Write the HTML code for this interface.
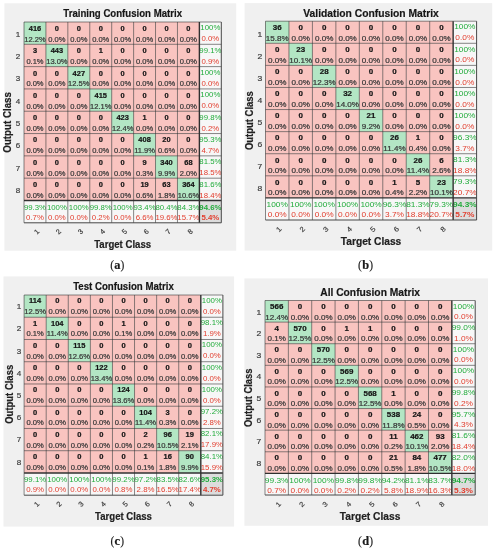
<!DOCTYPE html>
<html lang="en">
<head>
<meta charset="utf-8">
<title>Confusion Matrices</title>
<style>
html,body{margin:0;padding:0;background:#fff;}
body{width:496px;height:550px;overflow:hidden;}
svg{display:block;}
text{font-family:"Liberation Sans",Arial,Helvetica,sans-serif;text-anchor:middle;}
.n{font-size:7.45px;font-weight:bold;fill:#161616;stroke:#161616;stroke-width:0.22px;}
.p{font-size:7.55px;fill:#383838;stroke:#383838;stroke-width:0.22px;}
.g{font-size:7.8px;fill:#22ac3c;}
.r{font-size:7.8px;fill:#e23d2d;}
.b{font-weight:bold;}
.t{font-size:8.0px;fill:#3c3c3c;stroke:#3c3c3c;stroke-width:0.2px;}
.ti{font-size:11.1px;font-weight:bold;fill:#161616;stroke:#161616;stroke-width:0.2px;}
.la{font-size:10.8px;font-weight:bold;fill:#222;stroke:#222;stroke-width:0.2px;}
.cap{font-family:"Liberation Serif","DejaVu Serif",serif;font-size:11.5px;fill:#1a1a1a;letter-spacing:0.2px;stroke:#1a1a1a;stroke-width:0.12px;}
.capb{font-weight:bold;font-size:12.4px;stroke:#1a1a1a;stroke-width:0.2px;}
</style>
</head>
<body>
<svg width="496" height="550" viewBox="0 0 496 550">
<rect x="0" y="0" width="496" height="550" fill="#ffffff"/>
<g id="panel-a">
<rect x="4.4" y="3.3" width="231.8" height="247.4" fill="#f0f0f0"/>
<rect x="24" y="22" width="21.97" height="22.36" fill="#b3e6c4"/>
<rect x="45.92" y="22" width="21.97" height="22.36" fill="#f9c4c0"/>
<rect x="67.84" y="22" width="21.97" height="22.36" fill="#f9c4c0"/>
<rect x="89.77" y="22" width="21.97" height="22.36" fill="#f9c4c0"/>
<rect x="111.69" y="22" width="21.97" height="22.36" fill="#f9c4c0"/>
<rect x="133.61" y="22" width="21.97" height="22.36" fill="#f9c4c0"/>
<rect x="155.53" y="22" width="21.97" height="22.36" fill="#f9c4c0"/>
<rect x="177.46" y="22" width="21.97" height="22.36" fill="#f9c4c0"/>
<rect x="199.38" y="22" width="21.97" height="22.36" fill="#f7f7f7"/>
<rect x="24" y="44.31" width="21.97" height="22.36" fill="#f9c4c0"/>
<rect x="45.92" y="44.31" width="21.97" height="22.36" fill="#b3e6c4"/>
<rect x="67.84" y="44.31" width="21.97" height="22.36" fill="#f9c4c0"/>
<rect x="89.77" y="44.31" width="21.97" height="22.36" fill="#f9c4c0"/>
<rect x="111.69" y="44.31" width="21.97" height="22.36" fill="#f9c4c0"/>
<rect x="133.61" y="44.31" width="21.97" height="22.36" fill="#f9c4c0"/>
<rect x="155.53" y="44.31" width="21.97" height="22.36" fill="#f9c4c0"/>
<rect x="177.46" y="44.31" width="21.97" height="22.36" fill="#f9c4c0"/>
<rect x="199.38" y="44.31" width="21.97" height="22.36" fill="#f7f7f7"/>
<rect x="24" y="66.62" width="21.97" height="22.36" fill="#f9c4c0"/>
<rect x="45.92" y="66.62" width="21.97" height="22.36" fill="#f9c4c0"/>
<rect x="67.84" y="66.62" width="21.97" height="22.36" fill="#b3e6c4"/>
<rect x="89.77" y="66.62" width="21.97" height="22.36" fill="#f9c4c0"/>
<rect x="111.69" y="66.62" width="21.97" height="22.36" fill="#f9c4c0"/>
<rect x="133.61" y="66.62" width="21.97" height="22.36" fill="#f9c4c0"/>
<rect x="155.53" y="66.62" width="21.97" height="22.36" fill="#f9c4c0"/>
<rect x="177.46" y="66.62" width="21.97" height="22.36" fill="#f9c4c0"/>
<rect x="199.38" y="66.62" width="21.97" height="22.36" fill="#f7f7f7"/>
<rect x="24" y="88.93" width="21.97" height="22.36" fill="#f9c4c0"/>
<rect x="45.92" y="88.93" width="21.97" height="22.36" fill="#f9c4c0"/>
<rect x="67.84" y="88.93" width="21.97" height="22.36" fill="#f9c4c0"/>
<rect x="89.77" y="88.93" width="21.97" height="22.36" fill="#b3e6c4"/>
<rect x="111.69" y="88.93" width="21.97" height="22.36" fill="#f9c4c0"/>
<rect x="133.61" y="88.93" width="21.97" height="22.36" fill="#f9c4c0"/>
<rect x="155.53" y="88.93" width="21.97" height="22.36" fill="#f9c4c0"/>
<rect x="177.46" y="88.93" width="21.97" height="22.36" fill="#f9c4c0"/>
<rect x="199.38" y="88.93" width="21.97" height="22.36" fill="#f7f7f7"/>
<rect x="24" y="111.24" width="21.97" height="22.36" fill="#f9c4c0"/>
<rect x="45.92" y="111.24" width="21.97" height="22.36" fill="#f9c4c0"/>
<rect x="67.84" y="111.24" width="21.97" height="22.36" fill="#f9c4c0"/>
<rect x="89.77" y="111.24" width="21.97" height="22.36" fill="#f9c4c0"/>
<rect x="111.69" y="111.24" width="21.97" height="22.36" fill="#b3e6c4"/>
<rect x="133.61" y="111.24" width="21.97" height="22.36" fill="#f9c4c0"/>
<rect x="155.53" y="111.24" width="21.97" height="22.36" fill="#f9c4c0"/>
<rect x="177.46" y="111.24" width="21.97" height="22.36" fill="#f9c4c0"/>
<rect x="199.38" y="111.24" width="21.97" height="22.36" fill="#f7f7f7"/>
<rect x="24" y="133.56" width="21.97" height="22.36" fill="#f9c4c0"/>
<rect x="45.92" y="133.56" width="21.97" height="22.36" fill="#f9c4c0"/>
<rect x="67.84" y="133.56" width="21.97" height="22.36" fill="#f9c4c0"/>
<rect x="89.77" y="133.56" width="21.97" height="22.36" fill="#f9c4c0"/>
<rect x="111.69" y="133.56" width="21.97" height="22.36" fill="#f9c4c0"/>
<rect x="133.61" y="133.56" width="21.97" height="22.36" fill="#b3e6c4"/>
<rect x="155.53" y="133.56" width="21.97" height="22.36" fill="#f9c4c0"/>
<rect x="177.46" y="133.56" width="21.97" height="22.36" fill="#f9c4c0"/>
<rect x="199.38" y="133.56" width="21.97" height="22.36" fill="#f7f7f7"/>
<rect x="24" y="155.87" width="21.97" height="22.36" fill="#f9c4c0"/>
<rect x="45.92" y="155.87" width="21.97" height="22.36" fill="#f9c4c0"/>
<rect x="67.84" y="155.87" width="21.97" height="22.36" fill="#f9c4c0"/>
<rect x="89.77" y="155.87" width="21.97" height="22.36" fill="#f9c4c0"/>
<rect x="111.69" y="155.87" width="21.97" height="22.36" fill="#f9c4c0"/>
<rect x="133.61" y="155.87" width="21.97" height="22.36" fill="#f9c4c0"/>
<rect x="155.53" y="155.87" width="21.97" height="22.36" fill="#b3e6c4"/>
<rect x="177.46" y="155.87" width="21.97" height="22.36" fill="#f9c4c0"/>
<rect x="199.38" y="155.87" width="21.97" height="22.36" fill="#f7f7f7"/>
<rect x="24" y="178.18" width="21.97" height="22.36" fill="#f9c4c0"/>
<rect x="45.92" y="178.18" width="21.97" height="22.36" fill="#f9c4c0"/>
<rect x="67.84" y="178.18" width="21.97" height="22.36" fill="#f9c4c0"/>
<rect x="89.77" y="178.18" width="21.97" height="22.36" fill="#f9c4c0"/>
<rect x="111.69" y="178.18" width="21.97" height="22.36" fill="#f9c4c0"/>
<rect x="133.61" y="178.18" width="21.97" height="22.36" fill="#f9c4c0"/>
<rect x="155.53" y="178.18" width="21.97" height="22.36" fill="#f9c4c0"/>
<rect x="177.46" y="178.18" width="21.97" height="22.36" fill="#b3e6c4"/>
<rect x="199.38" y="178.18" width="21.97" height="22.36" fill="#f7f7f7"/>
<rect x="24" y="200.49" width="21.97" height="22.36" fill="#f7f7f7"/>
<rect x="45.92" y="200.49" width="21.97" height="22.36" fill="#f7f7f7"/>
<rect x="67.84" y="200.49" width="21.97" height="22.36" fill="#f7f7f7"/>
<rect x="89.77" y="200.49" width="21.97" height="22.36" fill="#f7f7f7"/>
<rect x="111.69" y="200.49" width="21.97" height="22.36" fill="#f7f7f7"/>
<rect x="133.61" y="200.49" width="21.97" height="22.36" fill="#f7f7f7"/>
<rect x="155.53" y="200.49" width="21.97" height="22.36" fill="#f7f7f7"/>
<rect x="177.46" y="200.49" width="21.97" height="22.36" fill="#f7f7f7"/>
<rect x="199.38" y="200.49" width="21.97" height="22.36" fill="#dcdcdc"/>
<text transform="translate(34.96 30.93) scale(1 1.05)" class="n">416</text>
<text transform="translate(34.96 41.76) scale(1 1.06)" class="p">12.2%</text>
<text transform="translate(56.88 30.93) scale(1 1.05)" class="n">0</text>
<text transform="translate(56.88 41.76) scale(1 1.06)" class="p">0.0%</text>
<text transform="translate(78.81 30.93) scale(1 1.05)" class="n">0</text>
<text transform="translate(78.81 41.76) scale(1 1.06)" class="p">0.0%</text>
<text transform="translate(100.73 30.93) scale(1 1.05)" class="n">0</text>
<text transform="translate(100.73 41.76) scale(1 1.06)" class="p">0.0%</text>
<text transform="translate(122.65 30.93) scale(1 1.05)" class="n">0</text>
<text transform="translate(122.65 41.76) scale(1 1.06)" class="p">0.0%</text>
<text transform="translate(144.57 30.93) scale(1 1.05)" class="n">0</text>
<text transform="translate(144.57 41.76) scale(1 1.06)" class="p">0.0%</text>
<text transform="translate(166.49 30.93) scale(1 1.05)" class="n">0</text>
<text transform="translate(166.49 41.76) scale(1 1.06)" class="p">0.0%</text>
<text transform="translate(188.42 30.93) scale(1 1.05)" class="n">0</text>
<text transform="translate(188.42 41.76) scale(1 1.06)" class="p">0.0%</text>
<text transform="translate(34.96 53.24) scale(1 1.05)" class="n">3</text>
<text transform="translate(34.96 64.07) scale(1 1.06)" class="p">0.1%</text>
<text transform="translate(56.88 53.24) scale(1 1.05)" class="n">443</text>
<text transform="translate(56.88 64.07) scale(1 1.06)" class="p">13.0%</text>
<text transform="translate(78.81 53.24) scale(1 1.05)" class="n">0</text>
<text transform="translate(78.81 64.07) scale(1 1.06)" class="p">0.0%</text>
<text transform="translate(100.73 53.24) scale(1 1.05)" class="n">1</text>
<text transform="translate(100.73 64.07) scale(1 1.06)" class="p">0.0%</text>
<text transform="translate(122.65 53.24) scale(1 1.05)" class="n">0</text>
<text transform="translate(122.65 64.07) scale(1 1.06)" class="p">0.0%</text>
<text transform="translate(144.57 53.24) scale(1 1.05)" class="n">0</text>
<text transform="translate(144.57 64.07) scale(1 1.06)" class="p">0.0%</text>
<text transform="translate(166.49 53.24) scale(1 1.05)" class="n">0</text>
<text transform="translate(166.49 64.07) scale(1 1.06)" class="p">0.0%</text>
<text transform="translate(188.42 53.24) scale(1 1.05)" class="n">0</text>
<text transform="translate(188.42 64.07) scale(1 1.06)" class="p">0.0%</text>
<text transform="translate(34.96 75.55) scale(1 1.05)" class="n">0</text>
<text transform="translate(34.96 86.39) scale(1 1.06)" class="p">0.0%</text>
<text transform="translate(56.88 75.55) scale(1 1.05)" class="n">0</text>
<text transform="translate(56.88 86.39) scale(1 1.06)" class="p">0.0%</text>
<text transform="translate(78.81 75.55) scale(1 1.05)" class="n">427</text>
<text transform="translate(78.81 86.39) scale(1 1.06)" class="p">12.5%</text>
<text transform="translate(100.73 75.55) scale(1 1.05)" class="n">0</text>
<text transform="translate(100.73 86.39) scale(1 1.06)" class="p">0.0%</text>
<text transform="translate(122.65 75.55) scale(1 1.05)" class="n">0</text>
<text transform="translate(122.65 86.39) scale(1 1.06)" class="p">0.0%</text>
<text transform="translate(144.57 75.55) scale(1 1.05)" class="n">0</text>
<text transform="translate(144.57 86.39) scale(1 1.06)" class="p">0.0%</text>
<text transform="translate(166.49 75.55) scale(1 1.05)" class="n">0</text>
<text transform="translate(166.49 86.39) scale(1 1.06)" class="p">0.0%</text>
<text transform="translate(188.42 75.55) scale(1 1.05)" class="n">0</text>
<text transform="translate(188.42 86.39) scale(1 1.06)" class="p">0.0%</text>
<text transform="translate(34.96 97.86) scale(1 1.05)" class="n">0</text>
<text transform="translate(34.96 108.7) scale(1 1.06)" class="p">0.0%</text>
<text transform="translate(56.88 97.86) scale(1 1.05)" class="n">0</text>
<text transform="translate(56.88 108.7) scale(1 1.06)" class="p">0.0%</text>
<text transform="translate(78.81 97.86) scale(1 1.05)" class="n">0</text>
<text transform="translate(78.81 108.7) scale(1 1.06)" class="p">0.0%</text>
<text transform="translate(100.73 97.86) scale(1 1.05)" class="n">415</text>
<text transform="translate(100.73 108.7) scale(1 1.06)" class="p">12.1%</text>
<text transform="translate(122.65 97.86) scale(1 1.05)" class="n">0</text>
<text transform="translate(122.65 108.7) scale(1 1.06)" class="p">0.0%</text>
<text transform="translate(144.57 97.86) scale(1 1.05)" class="n">0</text>
<text transform="translate(144.57 108.7) scale(1 1.06)" class="p">0.0%</text>
<text transform="translate(166.49 97.86) scale(1 1.05)" class="n">0</text>
<text transform="translate(166.49 108.7) scale(1 1.06)" class="p">0.0%</text>
<text transform="translate(188.42 97.86) scale(1 1.05)" class="n">0</text>
<text transform="translate(188.42 108.7) scale(1 1.06)" class="p">0.0%</text>
<text transform="translate(34.96 120.17) scale(1 1.05)" class="n">0</text>
<text transform="translate(34.96 131.01) scale(1 1.06)" class="p">0.0%</text>
<text transform="translate(56.88 120.17) scale(1 1.05)" class="n">0</text>
<text transform="translate(56.88 131.01) scale(1 1.06)" class="p">0.0%</text>
<text transform="translate(78.81 120.17) scale(1 1.05)" class="n">0</text>
<text transform="translate(78.81 131.01) scale(1 1.06)" class="p">0.0%</text>
<text transform="translate(100.73 120.17) scale(1 1.05)" class="n">0</text>
<text transform="translate(100.73 131.01) scale(1 1.06)" class="p">0.0%</text>
<text transform="translate(122.65 120.17) scale(1 1.05)" class="n">423</text>
<text transform="translate(122.65 131.01) scale(1 1.06)" class="p">12.4%</text>
<text transform="translate(144.57 120.17) scale(1 1.05)" class="n">1</text>
<text transform="translate(144.57 131.01) scale(1 1.06)" class="p">0.0%</text>
<text transform="translate(166.49 120.17) scale(1 1.05)" class="n">0</text>
<text transform="translate(166.49 131.01) scale(1 1.06)" class="p">0.0%</text>
<text transform="translate(188.42 120.17) scale(1 1.05)" class="n">0</text>
<text transform="translate(188.42 131.01) scale(1 1.06)" class="p">0.0%</text>
<text transform="translate(34.96 142.48) scale(1 1.05)" class="n">0</text>
<text transform="translate(34.96 153.32) scale(1 1.06)" class="p">0.0%</text>
<text transform="translate(56.88 142.48) scale(1 1.05)" class="n">0</text>
<text transform="translate(56.88 153.32) scale(1 1.06)" class="p">0.0%</text>
<text transform="translate(78.81 142.48) scale(1 1.05)" class="n">0</text>
<text transform="translate(78.81 153.32) scale(1 1.06)" class="p">0.0%</text>
<text transform="translate(100.73 142.48) scale(1 1.05)" class="n">0</text>
<text transform="translate(100.73 153.32) scale(1 1.06)" class="p">0.0%</text>
<text transform="translate(122.65 142.48) scale(1 1.05)" class="n">0</text>
<text transform="translate(122.65 153.32) scale(1 1.06)" class="p">0.0%</text>
<text transform="translate(144.57 142.48) scale(1 1.05)" class="n">408</text>
<text transform="translate(144.57 153.32) scale(1 1.06)" class="p">11.9%</text>
<text transform="translate(166.49 142.48) scale(1 1.05)" class="n">20</text>
<text transform="translate(166.49 153.32) scale(1 1.06)" class="p">0.6%</text>
<text transform="translate(188.42 142.48) scale(1 1.05)" class="n">0</text>
<text transform="translate(188.42 153.32) scale(1 1.06)" class="p">0.0%</text>
<text transform="translate(34.96 164.8) scale(1 1.05)" class="n">0</text>
<text transform="translate(34.96 175.63) scale(1 1.06)" class="p">0.0%</text>
<text transform="translate(56.88 164.8) scale(1 1.05)" class="n">0</text>
<text transform="translate(56.88 175.63) scale(1 1.06)" class="p">0.0%</text>
<text transform="translate(78.81 164.8) scale(1 1.05)" class="n">0</text>
<text transform="translate(78.81 175.63) scale(1 1.06)" class="p">0.0%</text>
<text transform="translate(100.73 164.8) scale(1 1.05)" class="n">0</text>
<text transform="translate(100.73 175.63) scale(1 1.06)" class="p">0.0%</text>
<text transform="translate(122.65 164.8) scale(1 1.05)" class="n">0</text>
<text transform="translate(122.65 175.63) scale(1 1.06)" class="p">0.0%</text>
<text transform="translate(144.57 164.8) scale(1 1.05)" class="n">9</text>
<text transform="translate(144.57 175.63) scale(1 1.06)" class="p">0.3%</text>
<text transform="translate(166.49 164.8) scale(1 1.05)" class="n">340</text>
<text transform="translate(166.49 175.63) scale(1 1.06)" class="p">9.9%</text>
<text transform="translate(188.42 164.8) scale(1 1.05)" class="n">68</text>
<text transform="translate(188.42 175.63) scale(1 1.06)" class="p">2.0%</text>
<text transform="translate(34.96 187.11) scale(1 1.05)" class="n">0</text>
<text transform="translate(34.96 197.94) scale(1 1.06)" class="p">0.0%</text>
<text transform="translate(56.88 187.11) scale(1 1.05)" class="n">0</text>
<text transform="translate(56.88 197.94) scale(1 1.06)" class="p">0.0%</text>
<text transform="translate(78.81 187.11) scale(1 1.05)" class="n">0</text>
<text transform="translate(78.81 197.94) scale(1 1.06)" class="p">0.0%</text>
<text transform="translate(100.73 187.11) scale(1 1.05)" class="n">0</text>
<text transform="translate(100.73 197.94) scale(1 1.06)" class="p">0.0%</text>
<text transform="translate(122.65 187.11) scale(1 1.05)" class="n">0</text>
<text transform="translate(122.65 197.94) scale(1 1.06)" class="p">0.0%</text>
<text transform="translate(144.57 187.11) scale(1 1.05)" class="n">19</text>
<text transform="translate(144.57 197.94) scale(1 1.06)" class="p">0.6%</text>
<text transform="translate(166.49 187.11) scale(1 1.05)" class="n">63</text>
<text transform="translate(166.49 197.94) scale(1 1.06)" class="p">1.8%</text>
<text transform="translate(188.42 187.11) scale(1 1.05)" class="n">364</text>
<text transform="translate(188.42 197.94) scale(1 1.06)" class="p">10.6%</text>
<text transform="translate(210.34 30.33) scale(1 1)" class="g">100%</text>
<text transform="translate(210.34 41.36) scale(1 1)" class="r">0.0%</text>
<text transform="translate(210.34 52.64) scale(1 1)" class="g">99.1%</text>
<text transform="translate(210.34 63.67) scale(1 1)" class="r">0.9%</text>
<text transform="translate(210.34 74.95) scale(1 1)" class="g">100%</text>
<text transform="translate(210.34 85.98) scale(1 1)" class="r">0.0%</text>
<text transform="translate(210.34 97.26) scale(1 1)" class="g">100%</text>
<text transform="translate(210.34 108.3) scale(1 1)" class="r">0.0%</text>
<text transform="translate(210.34 119.57) scale(1 1)" class="g">99.8%</text>
<text transform="translate(210.34 130.61) scale(1 1)" class="r">0.2%</text>
<text transform="translate(210.34 141.88) scale(1 1)" class="g">95.3%</text>
<text transform="translate(210.34 152.92) scale(1 1)" class="r">4.7%</text>
<text transform="translate(210.34 164.19) scale(1 1)" class="g">81.5%</text>
<text transform="translate(210.34 175.23) scale(1 1)" class="r">18.5%</text>
<text transform="translate(210.34 186.5) scale(1 1)" class="g">81.6%</text>
<text transform="translate(210.34 197.54) scale(1 1)" class="r">18.4%</text>
<text transform="translate(34.96 210.02) scale(1 1)" class="g">99.3%</text>
<text transform="translate(34.96 220.25) scale(1 1)" class="r">0.7%</text>
<text transform="translate(56.88 210.02) scale(1 1)" class="g">100%</text>
<text transform="translate(56.88 220.25) scale(1 1)" class="r">0.0%</text>
<text transform="translate(78.81 210.02) scale(1 1)" class="g">100%</text>
<text transform="translate(78.81 220.25) scale(1 1)" class="r">0.0%</text>
<text transform="translate(100.73 210.02) scale(1 1)" class="g">99.8%</text>
<text transform="translate(100.73 220.25) scale(1 1)" class="r">0.2%</text>
<text transform="translate(122.65 210.02) scale(1 1)" class="g">100%</text>
<text transform="translate(122.65 220.25) scale(1 1)" class="r">0.0%</text>
<text transform="translate(144.57 210.02) scale(1 1)" class="g">93.4%</text>
<text transform="translate(144.57 220.25) scale(1 1)" class="r">6.6%</text>
<text transform="translate(166.49 210.02) scale(1 1)" class="g">80.4%</text>
<text transform="translate(166.49 220.25) scale(1 1)" class="r">19.6%</text>
<text transform="translate(188.42 210.02) scale(1 1)" class="g">84.3%</text>
<text transform="translate(188.42 220.25) scale(1 1)" class="r">15.7%</text>
<text transform="translate(210.34 210.02) scale(1 1)" class="g b">94.6%</text>
<text transform="translate(210.34 220.25) scale(1 1)" class="r b">5.4%</text>
<line x1="24" y1="22" x2="24" y2="222.8" stroke="#333333" stroke-width="0.58"/>
<line x1="24" y1="22" x2="221.3" y2="22" stroke="#333333" stroke-width="0.58"/>
<line x1="45.92" y1="22" x2="45.92" y2="222.8" stroke="#333333" stroke-width="0.58"/>
<line x1="24" y1="44.31" x2="221.3" y2="44.31" stroke="#333333" stroke-width="0.58"/>
<line x1="67.84" y1="22" x2="67.84" y2="222.8" stroke="#333333" stroke-width="0.58"/>
<line x1="24" y1="66.62" x2="221.3" y2="66.62" stroke="#333333" stroke-width="0.58"/>
<line x1="89.77" y1="22" x2="89.77" y2="222.8" stroke="#333333" stroke-width="0.58"/>
<line x1="24" y1="88.93" x2="221.3" y2="88.93" stroke="#333333" stroke-width="0.58"/>
<line x1="111.69" y1="22" x2="111.69" y2="222.8" stroke="#333333" stroke-width="0.58"/>
<line x1="24" y1="111.24" x2="221.3" y2="111.24" stroke="#333333" stroke-width="0.58"/>
<line x1="133.61" y1="22" x2="133.61" y2="222.8" stroke="#333333" stroke-width="0.58"/>
<line x1="24" y1="133.56" x2="221.3" y2="133.56" stroke="#333333" stroke-width="0.58"/>
<line x1="155.53" y1="22" x2="155.53" y2="222.8" stroke="#333333" stroke-width="0.58"/>
<line x1="24" y1="155.87" x2="221.3" y2="155.87" stroke="#333333" stroke-width="0.58"/>
<line x1="177.46" y1="22" x2="177.46" y2="222.8" stroke="#333333" stroke-width="0.58"/>
<line x1="24" y1="178.18" x2="221.3" y2="178.18" stroke="#333333" stroke-width="0.58"/>
<line x1="199.38" y1="22" x2="199.38" y2="222.8" stroke="#303030" stroke-width="1.4"/>
<line x1="24" y1="200.49" x2="221.3" y2="200.49" stroke="#303030" stroke-width="1.4"/>
<line x1="221.3" y1="22" x2="221.3" y2="222.8" stroke="#484848" stroke-width="1.0"/>
<line x1="24" y1="222.8" x2="221.3" y2="222.8" stroke="#484848" stroke-width="1.0"/>
<text transform="translate(17.9 36.76) scale(1 1)" class="t">1</text>
<text transform="translate(38.36 233.4) rotate(-45) scale(0.9 0.9)" class="t">1</text>
<text transform="translate(17.9 59.07) scale(1 1)" class="t">2</text>
<text transform="translate(60.28 233.4) rotate(-45) scale(0.9 0.9)" class="t">2</text>
<text transform="translate(17.9 81.38) scale(1 1)" class="t">3</text>
<text transform="translate(82.21 233.4) rotate(-45) scale(0.9 0.9)" class="t">3</text>
<text transform="translate(17.9 103.69) scale(1 1)" class="t">4</text>
<text transform="translate(104.13 233.4) rotate(-45) scale(0.9 0.9)" class="t">4</text>
<text transform="translate(17.9 126) scale(1 1)" class="t">5</text>
<text transform="translate(126.05 233.4) rotate(-45) scale(0.9 0.9)" class="t">5</text>
<text transform="translate(17.9 148.31) scale(1 1)" class="t">6</text>
<text transform="translate(147.97 233.4) rotate(-45) scale(0.9 0.9)" class="t">6</text>
<text transform="translate(17.9 170.62) scale(1 1)" class="t">7</text>
<text transform="translate(169.89 233.4) rotate(-45) scale(0.9 0.9)" class="t">7</text>
<text transform="translate(17.9 192.93) scale(1 1)" class="t">8</text>
<text transform="translate(191.82 233.4) rotate(-45) scale(0.9 0.9)" class="t">8</text>
<text x="122.65" y="17.2" class="ti" textLength="118.7" lengthAdjust="spacingAndGlyphs">Training Confusion Matrix</text>
<text x="122.65" y="247.9" class="la" textLength="56.9" lengthAdjust="spacingAndGlyphs">Target Class</text>
<text transform="translate(10.9 122.4) rotate(-90)" class="la" textLength="60.5" lengthAdjust="spacingAndGlyphs">Output Class</text>
<text x="117.4" y="269" class="cap">(<tspan class="capb">a</tspan>)</text>
</g>
<g id="panel-b">
<rect x="244.6" y="3.1" width="247.6" height="247.5" fill="#f0f0f0"/>
<rect x="265.5" y="21.2" width="23.51" height="22.14" fill="#b3e6c4"/>
<rect x="288.96" y="21.2" width="23.51" height="22.14" fill="#f9c4c0"/>
<rect x="312.41" y="21.2" width="23.51" height="22.14" fill="#f9c4c0"/>
<rect x="335.87" y="21.2" width="23.51" height="22.14" fill="#f9c4c0"/>
<rect x="359.32" y="21.2" width="23.51" height="22.14" fill="#f9c4c0"/>
<rect x="382.78" y="21.2" width="23.51" height="22.14" fill="#f9c4c0"/>
<rect x="406.23" y="21.2" width="23.51" height="22.14" fill="#f9c4c0"/>
<rect x="429.69" y="21.2" width="23.51" height="22.14" fill="#f9c4c0"/>
<rect x="453.14" y="21.2" width="23.51" height="22.14" fill="#f7f7f7"/>
<rect x="265.5" y="43.29" width="23.51" height="22.14" fill="#f9c4c0"/>
<rect x="288.96" y="43.29" width="23.51" height="22.14" fill="#b3e6c4"/>
<rect x="312.41" y="43.29" width="23.51" height="22.14" fill="#f9c4c0"/>
<rect x="335.87" y="43.29" width="23.51" height="22.14" fill="#f9c4c0"/>
<rect x="359.32" y="43.29" width="23.51" height="22.14" fill="#f9c4c0"/>
<rect x="382.78" y="43.29" width="23.51" height="22.14" fill="#f9c4c0"/>
<rect x="406.23" y="43.29" width="23.51" height="22.14" fill="#f9c4c0"/>
<rect x="429.69" y="43.29" width="23.51" height="22.14" fill="#f9c4c0"/>
<rect x="453.14" y="43.29" width="23.51" height="22.14" fill="#f7f7f7"/>
<rect x="265.5" y="65.38" width="23.51" height="22.14" fill="#f9c4c0"/>
<rect x="288.96" y="65.38" width="23.51" height="22.14" fill="#f9c4c0"/>
<rect x="312.41" y="65.38" width="23.51" height="22.14" fill="#b3e6c4"/>
<rect x="335.87" y="65.38" width="23.51" height="22.14" fill="#f9c4c0"/>
<rect x="359.32" y="65.38" width="23.51" height="22.14" fill="#f9c4c0"/>
<rect x="382.78" y="65.38" width="23.51" height="22.14" fill="#f9c4c0"/>
<rect x="406.23" y="65.38" width="23.51" height="22.14" fill="#f9c4c0"/>
<rect x="429.69" y="65.38" width="23.51" height="22.14" fill="#f9c4c0"/>
<rect x="453.14" y="65.38" width="23.51" height="22.14" fill="#f7f7f7"/>
<rect x="265.5" y="87.47" width="23.51" height="22.14" fill="#f9c4c0"/>
<rect x="288.96" y="87.47" width="23.51" height="22.14" fill="#f9c4c0"/>
<rect x="312.41" y="87.47" width="23.51" height="22.14" fill="#f9c4c0"/>
<rect x="335.87" y="87.47" width="23.51" height="22.14" fill="#b3e6c4"/>
<rect x="359.32" y="87.47" width="23.51" height="22.14" fill="#f9c4c0"/>
<rect x="382.78" y="87.47" width="23.51" height="22.14" fill="#f9c4c0"/>
<rect x="406.23" y="87.47" width="23.51" height="22.14" fill="#f9c4c0"/>
<rect x="429.69" y="87.47" width="23.51" height="22.14" fill="#f9c4c0"/>
<rect x="453.14" y="87.47" width="23.51" height="22.14" fill="#f7f7f7"/>
<rect x="265.5" y="109.56" width="23.51" height="22.14" fill="#f9c4c0"/>
<rect x="288.96" y="109.56" width="23.51" height="22.14" fill="#f9c4c0"/>
<rect x="312.41" y="109.56" width="23.51" height="22.14" fill="#f9c4c0"/>
<rect x="335.87" y="109.56" width="23.51" height="22.14" fill="#f9c4c0"/>
<rect x="359.32" y="109.56" width="23.51" height="22.14" fill="#b3e6c4"/>
<rect x="382.78" y="109.56" width="23.51" height="22.14" fill="#f9c4c0"/>
<rect x="406.23" y="109.56" width="23.51" height="22.14" fill="#f9c4c0"/>
<rect x="429.69" y="109.56" width="23.51" height="22.14" fill="#f9c4c0"/>
<rect x="453.14" y="109.56" width="23.51" height="22.14" fill="#f7f7f7"/>
<rect x="265.5" y="131.64" width="23.51" height="22.14" fill="#f9c4c0"/>
<rect x="288.96" y="131.64" width="23.51" height="22.14" fill="#f9c4c0"/>
<rect x="312.41" y="131.64" width="23.51" height="22.14" fill="#f9c4c0"/>
<rect x="335.87" y="131.64" width="23.51" height="22.14" fill="#f9c4c0"/>
<rect x="359.32" y="131.64" width="23.51" height="22.14" fill="#f9c4c0"/>
<rect x="382.78" y="131.64" width="23.51" height="22.14" fill="#b3e6c4"/>
<rect x="406.23" y="131.64" width="23.51" height="22.14" fill="#f9c4c0"/>
<rect x="429.69" y="131.64" width="23.51" height="22.14" fill="#f9c4c0"/>
<rect x="453.14" y="131.64" width="23.51" height="22.14" fill="#f7f7f7"/>
<rect x="265.5" y="153.73" width="23.51" height="22.14" fill="#f9c4c0"/>
<rect x="288.96" y="153.73" width="23.51" height="22.14" fill="#f9c4c0"/>
<rect x="312.41" y="153.73" width="23.51" height="22.14" fill="#f9c4c0"/>
<rect x="335.87" y="153.73" width="23.51" height="22.14" fill="#f9c4c0"/>
<rect x="359.32" y="153.73" width="23.51" height="22.14" fill="#f9c4c0"/>
<rect x="382.78" y="153.73" width="23.51" height="22.14" fill="#f9c4c0"/>
<rect x="406.23" y="153.73" width="23.51" height="22.14" fill="#b3e6c4"/>
<rect x="429.69" y="153.73" width="23.51" height="22.14" fill="#f9c4c0"/>
<rect x="453.14" y="153.73" width="23.51" height="22.14" fill="#f7f7f7"/>
<rect x="265.5" y="175.82" width="23.51" height="22.14" fill="#f9c4c0"/>
<rect x="288.96" y="175.82" width="23.51" height="22.14" fill="#f9c4c0"/>
<rect x="312.41" y="175.82" width="23.51" height="22.14" fill="#f9c4c0"/>
<rect x="335.87" y="175.82" width="23.51" height="22.14" fill="#f9c4c0"/>
<rect x="359.32" y="175.82" width="23.51" height="22.14" fill="#f9c4c0"/>
<rect x="382.78" y="175.82" width="23.51" height="22.14" fill="#f9c4c0"/>
<rect x="406.23" y="175.82" width="23.51" height="22.14" fill="#f9c4c0"/>
<rect x="429.69" y="175.82" width="23.51" height="22.14" fill="#b3e6c4"/>
<rect x="453.14" y="175.82" width="23.51" height="22.14" fill="#f7f7f7"/>
<rect x="265.5" y="197.91" width="23.51" height="22.14" fill="#f7f7f7"/>
<rect x="288.96" y="197.91" width="23.51" height="22.14" fill="#f7f7f7"/>
<rect x="312.41" y="197.91" width="23.51" height="22.14" fill="#f7f7f7"/>
<rect x="335.87" y="197.91" width="23.51" height="22.14" fill="#f7f7f7"/>
<rect x="359.32" y="197.91" width="23.51" height="22.14" fill="#f7f7f7"/>
<rect x="382.78" y="197.91" width="23.51" height="22.14" fill="#f7f7f7"/>
<rect x="406.23" y="197.91" width="23.51" height="22.14" fill="#f7f7f7"/>
<rect x="429.69" y="197.91" width="23.51" height="22.14" fill="#f7f7f7"/>
<rect x="453.14" y="197.91" width="23.51" height="22.14" fill="#dcdcdc"/>
<text transform="translate(277.23 30.04) scale(1.07 1.04)" class="n">36</text>
<text transform="translate(277.23 40.77) scale(1.07 1.05)" class="p">15.8%</text>
<text transform="translate(300.68 30.04) scale(1.07 1.04)" class="n">0</text>
<text transform="translate(300.68 40.77) scale(1.07 1.05)" class="p">0.0%</text>
<text transform="translate(324.14 30.04) scale(1.07 1.04)" class="n">0</text>
<text transform="translate(324.14 40.77) scale(1.07 1.05)" class="p">0.0%</text>
<text transform="translate(347.59 30.04) scale(1.07 1.04)" class="n">0</text>
<text transform="translate(347.59 40.77) scale(1.07 1.05)" class="p">0.0%</text>
<text transform="translate(371.05 30.04) scale(1.07 1.04)" class="n">0</text>
<text transform="translate(371.05 40.77) scale(1.07 1.05)" class="p">0.0%</text>
<text transform="translate(394.51 30.04) scale(1.07 1.04)" class="n">0</text>
<text transform="translate(394.51 40.77) scale(1.07 1.05)" class="p">0.0%</text>
<text transform="translate(417.96 30.04) scale(1.07 1.04)" class="n">0</text>
<text transform="translate(417.96 40.77) scale(1.07 1.05)" class="p">0.0%</text>
<text transform="translate(441.42 30.04) scale(1.07 1.04)" class="n">0</text>
<text transform="translate(441.42 40.77) scale(1.07 1.05)" class="p">0.0%</text>
<text transform="translate(277.23 52.13) scale(1.07 1.04)" class="n">0</text>
<text transform="translate(277.23 62.86) scale(1.07 1.05)" class="p">0.0%</text>
<text transform="translate(300.68 52.13) scale(1.07 1.04)" class="n">23</text>
<text transform="translate(300.68 62.86) scale(1.07 1.05)" class="p">10.1%</text>
<text transform="translate(324.14 52.13) scale(1.07 1.04)" class="n">0</text>
<text transform="translate(324.14 62.86) scale(1.07 1.05)" class="p">0.0%</text>
<text transform="translate(347.59 52.13) scale(1.07 1.04)" class="n">0</text>
<text transform="translate(347.59 62.86) scale(1.07 1.05)" class="p">0.0%</text>
<text transform="translate(371.05 52.13) scale(1.07 1.04)" class="n">0</text>
<text transform="translate(371.05 62.86) scale(1.07 1.05)" class="p">0.0%</text>
<text transform="translate(394.51 52.13) scale(1.07 1.04)" class="n">0</text>
<text transform="translate(394.51 62.86) scale(1.07 1.05)" class="p">0.0%</text>
<text transform="translate(417.96 52.13) scale(1.07 1.04)" class="n">0</text>
<text transform="translate(417.96 62.86) scale(1.07 1.05)" class="p">0.0%</text>
<text transform="translate(441.42 52.13) scale(1.07 1.04)" class="n">0</text>
<text transform="translate(441.42 62.86) scale(1.07 1.05)" class="p">0.0%</text>
<text transform="translate(277.23 74.22) scale(1.07 1.04)" class="n">0</text>
<text transform="translate(277.23 84.94) scale(1.07 1.05)" class="p">0.0%</text>
<text transform="translate(300.68 74.22) scale(1.07 1.04)" class="n">0</text>
<text transform="translate(300.68 84.94) scale(1.07 1.05)" class="p">0.0%</text>
<text transform="translate(324.14 74.22) scale(1.07 1.04)" class="n">28</text>
<text transform="translate(324.14 84.94) scale(1.07 1.05)" class="p">12.3%</text>
<text transform="translate(347.59 74.22) scale(1.07 1.04)" class="n">0</text>
<text transform="translate(347.59 84.94) scale(1.07 1.05)" class="p">0.0%</text>
<text transform="translate(371.05 74.22) scale(1.07 1.04)" class="n">0</text>
<text transform="translate(371.05 84.94) scale(1.07 1.05)" class="p">0.0%</text>
<text transform="translate(394.51 74.22) scale(1.07 1.04)" class="n">0</text>
<text transform="translate(394.51 84.94) scale(1.07 1.05)" class="p">0.0%</text>
<text transform="translate(417.96 74.22) scale(1.07 1.04)" class="n">0</text>
<text transform="translate(417.96 84.94) scale(1.07 1.05)" class="p">0.0%</text>
<text transform="translate(441.42 74.22) scale(1.07 1.04)" class="n">0</text>
<text transform="translate(441.42 84.94) scale(1.07 1.05)" class="p">0.0%</text>
<text transform="translate(277.23 96.31) scale(1.07 1.04)" class="n">0</text>
<text transform="translate(277.23 107.03) scale(1.07 1.05)" class="p">0.0%</text>
<text transform="translate(300.68 96.31) scale(1.07 1.04)" class="n">0</text>
<text transform="translate(300.68 107.03) scale(1.07 1.05)" class="p">0.0%</text>
<text transform="translate(324.14 96.31) scale(1.07 1.04)" class="n">0</text>
<text transform="translate(324.14 107.03) scale(1.07 1.05)" class="p">0.0%</text>
<text transform="translate(347.59 96.31) scale(1.07 1.04)" class="n">32</text>
<text transform="translate(347.59 107.03) scale(1.07 1.05)" class="p">14.0%</text>
<text transform="translate(371.05 96.31) scale(1.07 1.04)" class="n">0</text>
<text transform="translate(371.05 107.03) scale(1.07 1.05)" class="p">0.0%</text>
<text transform="translate(394.51 96.31) scale(1.07 1.04)" class="n">0</text>
<text transform="translate(394.51 107.03) scale(1.07 1.05)" class="p">0.0%</text>
<text transform="translate(417.96 96.31) scale(1.07 1.04)" class="n">0</text>
<text transform="translate(417.96 107.03) scale(1.07 1.05)" class="p">0.0%</text>
<text transform="translate(441.42 96.31) scale(1.07 1.04)" class="n">0</text>
<text transform="translate(441.42 107.03) scale(1.07 1.05)" class="p">0.0%</text>
<text transform="translate(277.23 118.4) scale(1.07 1.04)" class="n">0</text>
<text transform="translate(277.23 129.12) scale(1.07 1.05)" class="p">0.0%</text>
<text transform="translate(300.68 118.4) scale(1.07 1.04)" class="n">0</text>
<text transform="translate(300.68 129.12) scale(1.07 1.05)" class="p">0.0%</text>
<text transform="translate(324.14 118.4) scale(1.07 1.04)" class="n">0</text>
<text transform="translate(324.14 129.12) scale(1.07 1.05)" class="p">0.0%</text>
<text transform="translate(347.59 118.4) scale(1.07 1.04)" class="n">0</text>
<text transform="translate(347.59 129.12) scale(1.07 1.05)" class="p">0.0%</text>
<text transform="translate(371.05 118.4) scale(1.07 1.04)" class="n">21</text>
<text transform="translate(371.05 129.12) scale(1.07 1.05)" class="p">9.2%</text>
<text transform="translate(394.51 118.4) scale(1.07 1.04)" class="n">0</text>
<text transform="translate(394.51 129.12) scale(1.07 1.05)" class="p">0.0%</text>
<text transform="translate(417.96 118.4) scale(1.07 1.04)" class="n">0</text>
<text transform="translate(417.96 129.12) scale(1.07 1.05)" class="p">0.0%</text>
<text transform="translate(441.42 118.4) scale(1.07 1.04)" class="n">0</text>
<text transform="translate(441.42 129.12) scale(1.07 1.05)" class="p">0.0%</text>
<text transform="translate(277.23 140.48) scale(1.07 1.04)" class="n">0</text>
<text transform="translate(277.23 151.21) scale(1.07 1.05)" class="p">0.0%</text>
<text transform="translate(300.68 140.48) scale(1.07 1.04)" class="n">0</text>
<text transform="translate(300.68 151.21) scale(1.07 1.05)" class="p">0.0%</text>
<text transform="translate(324.14 140.48) scale(1.07 1.04)" class="n">0</text>
<text transform="translate(324.14 151.21) scale(1.07 1.05)" class="p">0.0%</text>
<text transform="translate(347.59 140.48) scale(1.07 1.04)" class="n">0</text>
<text transform="translate(347.59 151.21) scale(1.07 1.05)" class="p">0.0%</text>
<text transform="translate(371.05 140.48) scale(1.07 1.04)" class="n">0</text>
<text transform="translate(371.05 151.21) scale(1.07 1.05)" class="p">0.0%</text>
<text transform="translate(394.51 140.48) scale(1.07 1.04)" class="n">26</text>
<text transform="translate(394.51 151.21) scale(1.07 1.05)" class="p">11.4%</text>
<text transform="translate(417.96 140.48) scale(1.07 1.04)" class="n">1</text>
<text transform="translate(417.96 151.21) scale(1.07 1.05)" class="p">0.4%</text>
<text transform="translate(441.42 140.48) scale(1.07 1.04)" class="n">0</text>
<text transform="translate(441.42 151.21) scale(1.07 1.05)" class="p">0.0%</text>
<text transform="translate(277.23 162.57) scale(1.07 1.04)" class="n">0</text>
<text transform="translate(277.23 173.3) scale(1.07 1.05)" class="p">0.0%</text>
<text transform="translate(300.68 162.57) scale(1.07 1.04)" class="n">0</text>
<text transform="translate(300.68 173.3) scale(1.07 1.05)" class="p">0.0%</text>
<text transform="translate(324.14 162.57) scale(1.07 1.04)" class="n">0</text>
<text transform="translate(324.14 173.3) scale(1.07 1.05)" class="p">0.0%</text>
<text transform="translate(347.59 162.57) scale(1.07 1.04)" class="n">0</text>
<text transform="translate(347.59 173.3) scale(1.07 1.05)" class="p">0.0%</text>
<text transform="translate(371.05 162.57) scale(1.07 1.04)" class="n">0</text>
<text transform="translate(371.05 173.3) scale(1.07 1.05)" class="p">0.0%</text>
<text transform="translate(394.51 162.57) scale(1.07 1.04)" class="n">0</text>
<text transform="translate(394.51 173.3) scale(1.07 1.05)" class="p">0.0%</text>
<text transform="translate(417.96 162.57) scale(1.07 1.04)" class="n">26</text>
<text transform="translate(417.96 173.3) scale(1.07 1.05)" class="p">11.4%</text>
<text transform="translate(441.42 162.57) scale(1.07 1.04)" class="n">6</text>
<text transform="translate(441.42 173.3) scale(1.07 1.05)" class="p">2.6%</text>
<text transform="translate(277.23 184.66) scale(1.07 1.04)" class="n">0</text>
<text transform="translate(277.23 195.39) scale(1.07 1.05)" class="p">0.0%</text>
<text transform="translate(300.68 184.66) scale(1.07 1.04)" class="n">0</text>
<text transform="translate(300.68 195.39) scale(1.07 1.05)" class="p">0.0%</text>
<text transform="translate(324.14 184.66) scale(1.07 1.04)" class="n">0</text>
<text transform="translate(324.14 195.39) scale(1.07 1.05)" class="p">0.0%</text>
<text transform="translate(347.59 184.66) scale(1.07 1.04)" class="n">0</text>
<text transform="translate(347.59 195.39) scale(1.07 1.05)" class="p">0.0%</text>
<text transform="translate(371.05 184.66) scale(1.07 1.04)" class="n">0</text>
<text transform="translate(371.05 195.39) scale(1.07 1.05)" class="p">0.0%</text>
<text transform="translate(394.51 184.66) scale(1.07 1.04)" class="n">1</text>
<text transform="translate(394.51 195.39) scale(1.07 1.05)" class="p">0.4%</text>
<text transform="translate(417.96 184.66) scale(1.07 1.04)" class="n">5</text>
<text transform="translate(417.96 195.39) scale(1.07 1.05)" class="p">2.2%</text>
<text transform="translate(441.42 184.66) scale(1.07 1.04)" class="n">23</text>
<text transform="translate(441.42 195.39) scale(1.07 1.05)" class="p">10.1%</text>
<text transform="translate(464.87 29.44) scale(1.07 0.99)" class="g">100%</text>
<text transform="translate(464.87 40.37) scale(1.07 0.99)" class="r">0.0%</text>
<text transform="translate(464.87 51.53) scale(1.07 0.99)" class="g">100%</text>
<text transform="translate(464.87 62.46) scale(1.07 0.99)" class="r">0.0%</text>
<text transform="translate(464.87 73.62) scale(1.07 0.99)" class="g">100%</text>
<text transform="translate(464.87 84.55) scale(1.07 0.99)" class="r">0.0%</text>
<text transform="translate(464.87 95.71) scale(1.07 0.99)" class="g">100%</text>
<text transform="translate(464.87 106.64) scale(1.07 0.99)" class="r">0.0%</text>
<text transform="translate(464.87 117.8) scale(1.07 0.99)" class="g">100%</text>
<text transform="translate(464.87 128.72) scale(1.07 0.99)" class="r">0.0%</text>
<text transform="translate(464.87 139.89) scale(1.07 0.99)" class="g">96.3%</text>
<text transform="translate(464.87 150.81) scale(1.07 0.99)" class="r">3.7%</text>
<text transform="translate(464.87 161.98) scale(1.07 0.99)" class="g">81.3%</text>
<text transform="translate(464.87 172.9) scale(1.07 0.99)" class="r">18.8%</text>
<text transform="translate(464.87 184.07) scale(1.07 0.99)" class="g">79.3%</text>
<text transform="translate(464.87 194.99) scale(1.07 0.99)" class="r">20.7%</text>
<text transform="translate(277.23 207.35) scale(1.07 0.99)" class="g">100%</text>
<text transform="translate(277.23 217.48) scale(1.07 0.99)" class="r">0.0%</text>
<text transform="translate(300.68 207.35) scale(1.07 0.99)" class="g">100%</text>
<text transform="translate(300.68 217.48) scale(1.07 0.99)" class="r">0.0%</text>
<text transform="translate(324.14 207.35) scale(1.07 0.99)" class="g">100%</text>
<text transform="translate(324.14 217.48) scale(1.07 0.99)" class="r">0.0%</text>
<text transform="translate(347.59 207.35) scale(1.07 0.99)" class="g">100%</text>
<text transform="translate(347.59 217.48) scale(1.07 0.99)" class="r">0.0%</text>
<text transform="translate(371.05 207.35) scale(1.07 0.99)" class="g">100%</text>
<text transform="translate(371.05 217.48) scale(1.07 0.99)" class="r">0.0%</text>
<text transform="translate(394.51 207.35) scale(1.07 0.99)" class="g">96.3%</text>
<text transform="translate(394.51 217.48) scale(1.07 0.99)" class="r">3.7%</text>
<text transform="translate(417.96 207.35) scale(1.07 0.99)" class="g">81.3%</text>
<text transform="translate(417.96 217.48) scale(1.07 0.99)" class="r">18.8%</text>
<text transform="translate(441.42 207.35) scale(1.07 0.99)" class="g">79.3%</text>
<text transform="translate(441.42 217.48) scale(1.07 0.99)" class="r">20.7%</text>
<text transform="translate(464.87 207.35) scale(1.07 0.99)" class="g b">94.3%</text>
<text transform="translate(464.87 217.48) scale(1.07 0.99)" class="r b">5.7%</text>
<line x1="265.5" y1="21.2" x2="265.5" y2="220" stroke="#333333" stroke-width="0.58"/>
<line x1="265.5" y1="21.2" x2="476.6" y2="21.2" stroke="#333333" stroke-width="0.58"/>
<line x1="288.96" y1="21.2" x2="288.96" y2="220" stroke="#333333" stroke-width="0.58"/>
<line x1="265.5" y1="43.29" x2="476.6" y2="43.29" stroke="#333333" stroke-width="0.58"/>
<line x1="312.41" y1="21.2" x2="312.41" y2="220" stroke="#333333" stroke-width="0.58"/>
<line x1="265.5" y1="65.38" x2="476.6" y2="65.38" stroke="#333333" stroke-width="0.58"/>
<line x1="335.87" y1="21.2" x2="335.87" y2="220" stroke="#333333" stroke-width="0.58"/>
<line x1="265.5" y1="87.47" x2="476.6" y2="87.47" stroke="#333333" stroke-width="0.58"/>
<line x1="359.32" y1="21.2" x2="359.32" y2="220" stroke="#333333" stroke-width="0.58"/>
<line x1="265.5" y1="109.56" x2="476.6" y2="109.56" stroke="#333333" stroke-width="0.58"/>
<line x1="382.78" y1="21.2" x2="382.78" y2="220" stroke="#333333" stroke-width="0.58"/>
<line x1="265.5" y1="131.64" x2="476.6" y2="131.64" stroke="#333333" stroke-width="0.58"/>
<line x1="406.23" y1="21.2" x2="406.23" y2="220" stroke="#333333" stroke-width="0.58"/>
<line x1="265.5" y1="153.73" x2="476.6" y2="153.73" stroke="#333333" stroke-width="0.58"/>
<line x1="429.69" y1="21.2" x2="429.69" y2="220" stroke="#333333" stroke-width="0.58"/>
<line x1="265.5" y1="175.82" x2="476.6" y2="175.82" stroke="#333333" stroke-width="0.58"/>
<line x1="453.14" y1="21.2" x2="453.14" y2="220" stroke="#303030" stroke-width="1.4"/>
<line x1="265.5" y1="197.91" x2="476.6" y2="197.91" stroke="#303030" stroke-width="1.4"/>
<line x1="476.6" y1="21.2" x2="476.6" y2="220" stroke="#484848" stroke-width="1.0"/>
<line x1="265.5" y1="220" x2="476.6" y2="220" stroke="#484848" stroke-width="1.0"/>
<text transform="translate(259.9 36.54) scale(1.07 0.99)" class="t">1</text>
<text transform="translate(280.63 230.9) rotate(-45) scale(0.96 0.89)" class="t">1</text>
<text transform="translate(259.9 58.63) scale(1.07 0.99)" class="t">2</text>
<text transform="translate(304.08 230.9) rotate(-45) scale(0.96 0.89)" class="t">2</text>
<text transform="translate(259.9 80.72) scale(1.07 0.99)" class="t">3</text>
<text transform="translate(327.54 230.9) rotate(-45) scale(0.96 0.89)" class="t">3</text>
<text transform="translate(259.9 102.81) scale(1.07 0.99)" class="t">4</text>
<text transform="translate(350.99 230.9) rotate(-45) scale(0.96 0.89)" class="t">4</text>
<text transform="translate(259.9 124.9) scale(1.07 0.99)" class="t">5</text>
<text transform="translate(374.45 230.9) rotate(-45) scale(0.96 0.89)" class="t">5</text>
<text transform="translate(259.9 146.99) scale(1.07 0.99)" class="t">6</text>
<text transform="translate(397.91 230.9) rotate(-45) scale(0.96 0.89)" class="t">6</text>
<text transform="translate(259.9 169.08) scale(1.07 0.99)" class="t">7</text>
<text transform="translate(421.36 230.9) rotate(-45) scale(0.96 0.89)" class="t">7</text>
<text transform="translate(259.9 191.17) scale(1.07 0.99)" class="t">8</text>
<text transform="translate(444.82 230.9) rotate(-45) scale(0.96 0.89)" class="t">8</text>
<text x="371.05" y="16.5" class="ti" textLength="135.5" lengthAdjust="spacingAndGlyphs">Validation Confusion Matrix</text>
<text x="371.05" y="245.4" class="la" textLength="60.5" lengthAdjust="spacingAndGlyphs">Target Class</text>
<text transform="translate(252.7 120.6) rotate(-90)" class="la" textLength="58.9" lengthAdjust="spacingAndGlyphs">Output Class</text>
<text x="365.7" y="268.8" class="cap">(<tspan class="capb">b</tspan>)</text>
</g>
<g id="panel-c">
<rect x="3.5" y="276.4" width="230.6" height="250.2" fill="#f0f0f0"/>
<rect x="24.1" y="295" width="22.14" height="22.29" fill="#b3e6c4"/>
<rect x="46.19" y="295" width="22.14" height="22.29" fill="#f9c4c0"/>
<rect x="68.28" y="295" width="22.14" height="22.29" fill="#f9c4c0"/>
<rect x="90.37" y="295" width="22.14" height="22.29" fill="#f9c4c0"/>
<rect x="112.46" y="295" width="22.14" height="22.29" fill="#f9c4c0"/>
<rect x="134.54" y="295" width="22.14" height="22.29" fill="#f9c4c0"/>
<rect x="156.63" y="295" width="22.14" height="22.29" fill="#f9c4c0"/>
<rect x="178.72" y="295" width="22.14" height="22.29" fill="#f9c4c0"/>
<rect x="200.81" y="295" width="22.14" height="22.29" fill="#f7f7f7"/>
<rect x="24.1" y="317.24" width="22.14" height="22.29" fill="#f9c4c0"/>
<rect x="46.19" y="317.24" width="22.14" height="22.29" fill="#b3e6c4"/>
<rect x="68.28" y="317.24" width="22.14" height="22.29" fill="#f9c4c0"/>
<rect x="90.37" y="317.24" width="22.14" height="22.29" fill="#f9c4c0"/>
<rect x="112.46" y="317.24" width="22.14" height="22.29" fill="#f9c4c0"/>
<rect x="134.54" y="317.24" width="22.14" height="22.29" fill="#f9c4c0"/>
<rect x="156.63" y="317.24" width="22.14" height="22.29" fill="#f9c4c0"/>
<rect x="178.72" y="317.24" width="22.14" height="22.29" fill="#f9c4c0"/>
<rect x="200.81" y="317.24" width="22.14" height="22.29" fill="#f7f7f7"/>
<rect x="24.1" y="339.49" width="22.14" height="22.29" fill="#f9c4c0"/>
<rect x="46.19" y="339.49" width="22.14" height="22.29" fill="#f9c4c0"/>
<rect x="68.28" y="339.49" width="22.14" height="22.29" fill="#b3e6c4"/>
<rect x="90.37" y="339.49" width="22.14" height="22.29" fill="#f9c4c0"/>
<rect x="112.46" y="339.49" width="22.14" height="22.29" fill="#f9c4c0"/>
<rect x="134.54" y="339.49" width="22.14" height="22.29" fill="#f9c4c0"/>
<rect x="156.63" y="339.49" width="22.14" height="22.29" fill="#f9c4c0"/>
<rect x="178.72" y="339.49" width="22.14" height="22.29" fill="#f9c4c0"/>
<rect x="200.81" y="339.49" width="22.14" height="22.29" fill="#f7f7f7"/>
<rect x="24.1" y="361.73" width="22.14" height="22.29" fill="#f9c4c0"/>
<rect x="46.19" y="361.73" width="22.14" height="22.29" fill="#f9c4c0"/>
<rect x="68.28" y="361.73" width="22.14" height="22.29" fill="#f9c4c0"/>
<rect x="90.37" y="361.73" width="22.14" height="22.29" fill="#b3e6c4"/>
<rect x="112.46" y="361.73" width="22.14" height="22.29" fill="#f9c4c0"/>
<rect x="134.54" y="361.73" width="22.14" height="22.29" fill="#f9c4c0"/>
<rect x="156.63" y="361.73" width="22.14" height="22.29" fill="#f9c4c0"/>
<rect x="178.72" y="361.73" width="22.14" height="22.29" fill="#f9c4c0"/>
<rect x="200.81" y="361.73" width="22.14" height="22.29" fill="#f7f7f7"/>
<rect x="24.1" y="383.98" width="22.14" height="22.29" fill="#f9c4c0"/>
<rect x="46.19" y="383.98" width="22.14" height="22.29" fill="#f9c4c0"/>
<rect x="68.28" y="383.98" width="22.14" height="22.29" fill="#f9c4c0"/>
<rect x="90.37" y="383.98" width="22.14" height="22.29" fill="#f9c4c0"/>
<rect x="112.46" y="383.98" width="22.14" height="22.29" fill="#b3e6c4"/>
<rect x="134.54" y="383.98" width="22.14" height="22.29" fill="#f9c4c0"/>
<rect x="156.63" y="383.98" width="22.14" height="22.29" fill="#f9c4c0"/>
<rect x="178.72" y="383.98" width="22.14" height="22.29" fill="#f9c4c0"/>
<rect x="200.81" y="383.98" width="22.14" height="22.29" fill="#f7f7f7"/>
<rect x="24.1" y="406.22" width="22.14" height="22.29" fill="#f9c4c0"/>
<rect x="46.19" y="406.22" width="22.14" height="22.29" fill="#f9c4c0"/>
<rect x="68.28" y="406.22" width="22.14" height="22.29" fill="#f9c4c0"/>
<rect x="90.37" y="406.22" width="22.14" height="22.29" fill="#f9c4c0"/>
<rect x="112.46" y="406.22" width="22.14" height="22.29" fill="#f9c4c0"/>
<rect x="134.54" y="406.22" width="22.14" height="22.29" fill="#b3e6c4"/>
<rect x="156.63" y="406.22" width="22.14" height="22.29" fill="#f9c4c0"/>
<rect x="178.72" y="406.22" width="22.14" height="22.29" fill="#f9c4c0"/>
<rect x="200.81" y="406.22" width="22.14" height="22.29" fill="#f7f7f7"/>
<rect x="24.1" y="428.47" width="22.14" height="22.29" fill="#f9c4c0"/>
<rect x="46.19" y="428.47" width="22.14" height="22.29" fill="#f9c4c0"/>
<rect x="68.28" y="428.47" width="22.14" height="22.29" fill="#f9c4c0"/>
<rect x="90.37" y="428.47" width="22.14" height="22.29" fill="#f9c4c0"/>
<rect x="112.46" y="428.47" width="22.14" height="22.29" fill="#f9c4c0"/>
<rect x="134.54" y="428.47" width="22.14" height="22.29" fill="#f9c4c0"/>
<rect x="156.63" y="428.47" width="22.14" height="22.29" fill="#b3e6c4"/>
<rect x="178.72" y="428.47" width="22.14" height="22.29" fill="#f9c4c0"/>
<rect x="200.81" y="428.47" width="22.14" height="22.29" fill="#f7f7f7"/>
<rect x="24.1" y="450.71" width="22.14" height="22.29" fill="#f9c4c0"/>
<rect x="46.19" y="450.71" width="22.14" height="22.29" fill="#f9c4c0"/>
<rect x="68.28" y="450.71" width="22.14" height="22.29" fill="#f9c4c0"/>
<rect x="90.37" y="450.71" width="22.14" height="22.29" fill="#f9c4c0"/>
<rect x="112.46" y="450.71" width="22.14" height="22.29" fill="#f9c4c0"/>
<rect x="134.54" y="450.71" width="22.14" height="22.29" fill="#f9c4c0"/>
<rect x="156.63" y="450.71" width="22.14" height="22.29" fill="#f9c4c0"/>
<rect x="178.72" y="450.71" width="22.14" height="22.29" fill="#b3e6c4"/>
<rect x="200.81" y="450.71" width="22.14" height="22.29" fill="#f7f7f7"/>
<rect x="24.1" y="472.96" width="22.14" height="22.29" fill="#f7f7f7"/>
<rect x="46.19" y="472.96" width="22.14" height="22.29" fill="#f7f7f7"/>
<rect x="68.28" y="472.96" width="22.14" height="22.29" fill="#f7f7f7"/>
<rect x="90.37" y="472.96" width="22.14" height="22.29" fill="#f7f7f7"/>
<rect x="112.46" y="472.96" width="22.14" height="22.29" fill="#f7f7f7"/>
<rect x="134.54" y="472.96" width="22.14" height="22.29" fill="#f7f7f7"/>
<rect x="156.63" y="472.96" width="22.14" height="22.29" fill="#f7f7f7"/>
<rect x="178.72" y="472.96" width="22.14" height="22.29" fill="#f7f7f7"/>
<rect x="200.81" y="472.96" width="22.14" height="22.29" fill="#dcdcdc"/>
<text transform="translate(35.14 303.4) scale(1.01 1.05)" class="n">114</text>
<text transform="translate(35.14 314.2) scale(1.01 1.06)" class="p">12.5%</text>
<text transform="translate(57.23 303.4) scale(1.01 1.05)" class="n">0</text>
<text transform="translate(57.23 314.2) scale(1.01 1.06)" class="p">0.0%</text>
<text transform="translate(79.32 303.4) scale(1.01 1.05)" class="n">0</text>
<text transform="translate(79.32 314.2) scale(1.01 1.06)" class="p">0.0%</text>
<text transform="translate(101.41 303.4) scale(1.01 1.05)" class="n">0</text>
<text transform="translate(101.41 314.2) scale(1.01 1.06)" class="p">0.0%</text>
<text transform="translate(123.5 303.4) scale(1.01 1.05)" class="n">0</text>
<text transform="translate(123.5 314.2) scale(1.01 1.06)" class="p">0.0%</text>
<text transform="translate(145.59 303.4) scale(1.01 1.05)" class="n">0</text>
<text transform="translate(145.59 314.2) scale(1.01 1.06)" class="p">0.0%</text>
<text transform="translate(167.68 303.4) scale(1.01 1.05)" class="n">0</text>
<text transform="translate(167.68 314.2) scale(1.01 1.06)" class="p">0.0%</text>
<text transform="translate(189.77 303.4) scale(1.01 1.05)" class="n">0</text>
<text transform="translate(189.77 314.2) scale(1.01 1.06)" class="p">0.0%</text>
<text transform="translate(35.14 325.65) scale(1.01 1.05)" class="n">1</text>
<text transform="translate(35.14 336.45) scale(1.01 1.06)" class="p">0.1%</text>
<text transform="translate(57.23 325.65) scale(1.01 1.05)" class="n">104</text>
<text transform="translate(57.23 336.45) scale(1.01 1.06)" class="p">11.4%</text>
<text transform="translate(79.32 325.65) scale(1.01 1.05)" class="n">0</text>
<text transform="translate(79.32 336.45) scale(1.01 1.06)" class="p">0.0%</text>
<text transform="translate(101.41 325.65) scale(1.01 1.05)" class="n">0</text>
<text transform="translate(101.41 336.45) scale(1.01 1.06)" class="p">0.0%</text>
<text transform="translate(123.5 325.65) scale(1.01 1.05)" class="n">1</text>
<text transform="translate(123.5 336.45) scale(1.01 1.06)" class="p">0.1%</text>
<text transform="translate(145.59 325.65) scale(1.01 1.05)" class="n">0</text>
<text transform="translate(145.59 336.45) scale(1.01 1.06)" class="p">0.0%</text>
<text transform="translate(167.68 325.65) scale(1.01 1.05)" class="n">0</text>
<text transform="translate(167.68 336.45) scale(1.01 1.06)" class="p">0.0%</text>
<text transform="translate(189.77 325.65) scale(1.01 1.05)" class="n">0</text>
<text transform="translate(189.77 336.45) scale(1.01 1.06)" class="p">0.0%</text>
<text transform="translate(35.14 347.89) scale(1.01 1.05)" class="n">0</text>
<text transform="translate(35.14 358.69) scale(1.01 1.06)" class="p">0.0%</text>
<text transform="translate(57.23 347.89) scale(1.01 1.05)" class="n">0</text>
<text transform="translate(57.23 358.69) scale(1.01 1.06)" class="p">0.0%</text>
<text transform="translate(79.32 347.89) scale(1.01 1.05)" class="n">115</text>
<text transform="translate(79.32 358.69) scale(1.01 1.06)" class="p">12.6%</text>
<text transform="translate(101.41 347.89) scale(1.01 1.05)" class="n">0</text>
<text transform="translate(101.41 358.69) scale(1.01 1.06)" class="p">0.0%</text>
<text transform="translate(123.5 347.89) scale(1.01 1.05)" class="n">0</text>
<text transform="translate(123.5 358.69) scale(1.01 1.06)" class="p">0.0%</text>
<text transform="translate(145.59 347.89) scale(1.01 1.05)" class="n">0</text>
<text transform="translate(145.59 358.69) scale(1.01 1.06)" class="p">0.0%</text>
<text transform="translate(167.68 347.89) scale(1.01 1.05)" class="n">0</text>
<text transform="translate(167.68 358.69) scale(1.01 1.06)" class="p">0.0%</text>
<text transform="translate(189.77 347.89) scale(1.01 1.05)" class="n">0</text>
<text transform="translate(189.77 358.69) scale(1.01 1.06)" class="p">0.0%</text>
<text transform="translate(35.14 370.14) scale(1.01 1.05)" class="n">0</text>
<text transform="translate(35.14 380.94) scale(1.01 1.06)" class="p">0.0%</text>
<text transform="translate(57.23 370.14) scale(1.01 1.05)" class="n">0</text>
<text transform="translate(57.23 380.94) scale(1.01 1.06)" class="p">0.0%</text>
<text transform="translate(79.32 370.14) scale(1.01 1.05)" class="n">0</text>
<text transform="translate(79.32 380.94) scale(1.01 1.06)" class="p">0.0%</text>
<text transform="translate(101.41 370.14) scale(1.01 1.05)" class="n">122</text>
<text transform="translate(101.41 380.94) scale(1.01 1.06)" class="p">13.4%</text>
<text transform="translate(123.5 370.14) scale(1.01 1.05)" class="n">0</text>
<text transform="translate(123.5 380.94) scale(1.01 1.06)" class="p">0.0%</text>
<text transform="translate(145.59 370.14) scale(1.01 1.05)" class="n">0</text>
<text transform="translate(145.59 380.94) scale(1.01 1.06)" class="p">0.0%</text>
<text transform="translate(167.68 370.14) scale(1.01 1.05)" class="n">0</text>
<text transform="translate(167.68 380.94) scale(1.01 1.06)" class="p">0.0%</text>
<text transform="translate(189.77 370.14) scale(1.01 1.05)" class="n">0</text>
<text transform="translate(189.77 380.94) scale(1.01 1.06)" class="p">0.0%</text>
<text transform="translate(35.14 392.38) scale(1.01 1.05)" class="n">0</text>
<text transform="translate(35.14 403.18) scale(1.01 1.06)" class="p">0.0%</text>
<text transform="translate(57.23 392.38) scale(1.01 1.05)" class="n">0</text>
<text transform="translate(57.23 403.18) scale(1.01 1.06)" class="p">0.0%</text>
<text transform="translate(79.32 392.38) scale(1.01 1.05)" class="n">0</text>
<text transform="translate(79.32 403.18) scale(1.01 1.06)" class="p">0.0%</text>
<text transform="translate(101.41 392.38) scale(1.01 1.05)" class="n">0</text>
<text transform="translate(101.41 403.18) scale(1.01 1.06)" class="p">0.0%</text>
<text transform="translate(123.5 392.38) scale(1.01 1.05)" class="n">124</text>
<text transform="translate(123.5 403.18) scale(1.01 1.06)" class="p">13.6%</text>
<text transform="translate(145.59 392.38) scale(1.01 1.05)" class="n">0</text>
<text transform="translate(145.59 403.18) scale(1.01 1.06)" class="p">0.0%</text>
<text transform="translate(167.68 392.38) scale(1.01 1.05)" class="n">0</text>
<text transform="translate(167.68 403.18) scale(1.01 1.06)" class="p">0.0%</text>
<text transform="translate(189.77 392.38) scale(1.01 1.05)" class="n">0</text>
<text transform="translate(189.77 403.18) scale(1.01 1.06)" class="p">0.0%</text>
<text transform="translate(35.14 414.62) scale(1.01 1.05)" class="n">0</text>
<text transform="translate(35.14 425.43) scale(1.01 1.06)" class="p">0.0%</text>
<text transform="translate(57.23 414.62) scale(1.01 1.05)" class="n">0</text>
<text transform="translate(57.23 425.43) scale(1.01 1.06)" class="p">0.0%</text>
<text transform="translate(79.32 414.62) scale(1.01 1.05)" class="n">0</text>
<text transform="translate(79.32 425.43) scale(1.01 1.06)" class="p">0.0%</text>
<text transform="translate(101.41 414.62) scale(1.01 1.05)" class="n">0</text>
<text transform="translate(101.41 425.43) scale(1.01 1.06)" class="p">0.0%</text>
<text transform="translate(123.5 414.62) scale(1.01 1.05)" class="n">0</text>
<text transform="translate(123.5 425.43) scale(1.01 1.06)" class="p">0.0%</text>
<text transform="translate(145.59 414.62) scale(1.01 1.05)" class="n">104</text>
<text transform="translate(145.59 425.43) scale(1.01 1.06)" class="p">11.4%</text>
<text transform="translate(167.68 414.62) scale(1.01 1.05)" class="n">3</text>
<text transform="translate(167.68 425.43) scale(1.01 1.06)" class="p">0.3%</text>
<text transform="translate(189.77 414.62) scale(1.01 1.05)" class="n">0</text>
<text transform="translate(189.77 425.43) scale(1.01 1.06)" class="p">0.0%</text>
<text transform="translate(35.14 436.87) scale(1.01 1.05)" class="n">0</text>
<text transform="translate(35.14 447.67) scale(1.01 1.06)" class="p">0.0%</text>
<text transform="translate(57.23 436.87) scale(1.01 1.05)" class="n">0</text>
<text transform="translate(57.23 447.67) scale(1.01 1.06)" class="p">0.0%</text>
<text transform="translate(79.32 436.87) scale(1.01 1.05)" class="n">0</text>
<text transform="translate(79.32 447.67) scale(1.01 1.06)" class="p">0.0%</text>
<text transform="translate(101.41 436.87) scale(1.01 1.05)" class="n">0</text>
<text transform="translate(101.41 447.67) scale(1.01 1.06)" class="p">0.0%</text>
<text transform="translate(123.5 436.87) scale(1.01 1.05)" class="n">0</text>
<text transform="translate(123.5 447.67) scale(1.01 1.06)" class="p">0.0%</text>
<text transform="translate(145.59 436.87) scale(1.01 1.05)" class="n">2</text>
<text transform="translate(145.59 447.67) scale(1.01 1.06)" class="p">0.2%</text>
<text transform="translate(167.68 436.87) scale(1.01 1.05)" class="n">96</text>
<text transform="translate(167.68 447.67) scale(1.01 1.06)" class="p">10.5%</text>
<text transform="translate(189.77 436.87) scale(1.01 1.05)" class="n">19</text>
<text transform="translate(189.77 447.67) scale(1.01 1.06)" class="p">2.1%</text>
<text transform="translate(35.14 459.11) scale(1.01 1.05)" class="n">0</text>
<text transform="translate(35.14 469.92) scale(1.01 1.06)" class="p">0.0%</text>
<text transform="translate(57.23 459.11) scale(1.01 1.05)" class="n">0</text>
<text transform="translate(57.23 469.92) scale(1.01 1.06)" class="p">0.0%</text>
<text transform="translate(79.32 459.11) scale(1.01 1.05)" class="n">0</text>
<text transform="translate(79.32 469.92) scale(1.01 1.06)" class="p">0.0%</text>
<text transform="translate(101.41 459.11) scale(1.01 1.05)" class="n">0</text>
<text transform="translate(101.41 469.92) scale(1.01 1.06)" class="p">0.0%</text>
<text transform="translate(123.5 459.11) scale(1.01 1.05)" class="n">0</text>
<text transform="translate(123.5 469.92) scale(1.01 1.06)" class="p">0.0%</text>
<text transform="translate(145.59 459.11) scale(1.01 1.05)" class="n">1</text>
<text transform="translate(145.59 469.92) scale(1.01 1.06)" class="p">0.1%</text>
<text transform="translate(167.68 459.11) scale(1.01 1.05)" class="n">16</text>
<text transform="translate(167.68 469.92) scale(1.01 1.06)" class="p">1.8%</text>
<text transform="translate(189.77 459.11) scale(1.01 1.05)" class="n">90</text>
<text transform="translate(189.77 469.92) scale(1.01 1.06)" class="p">9.9%</text>
<text transform="translate(211.86 302.8) scale(1.01 1)" class="g">100%</text>
<text transform="translate(211.86 313.8) scale(1.01 1)" class="r">0.0%</text>
<text transform="translate(211.86 325.05) scale(1.01 1)" class="g">98.1%</text>
<text transform="translate(211.86 336.05) scale(1.01 1)" class="r">1.9%</text>
<text transform="translate(211.86 347.29) scale(1.01 1)" class="g">100%</text>
<text transform="translate(211.86 358.29) scale(1.01 1)" class="r">0.0%</text>
<text transform="translate(211.86 369.53) scale(1.01 1)" class="g">100%</text>
<text transform="translate(211.86 380.54) scale(1.01 1)" class="r">0.0%</text>
<text transform="translate(211.86 391.78) scale(1.01 1)" class="g">100%</text>
<text transform="translate(211.86 402.78) scale(1.01 1)" class="r">0.0%</text>
<text transform="translate(211.86 414.02) scale(1.01 1)" class="g">97.2%</text>
<text transform="translate(211.86 425.03) scale(1.01 1)" class="r">2.8%</text>
<text transform="translate(211.86 436.27) scale(1.01 1)" class="g">82.1%</text>
<text transform="translate(211.86 447.27) scale(1.01 1)" class="r">17.9%</text>
<text transform="translate(211.86 458.51) scale(1.01 1)" class="g">84.1%</text>
<text transform="translate(211.86 469.51) scale(1.01 1)" class="r">15.9%</text>
<text transform="translate(35.14 481.96) scale(1.01 1)" class="g">99.1%</text>
<text transform="translate(35.14 492.16) scale(1.01 1)" class="r">0.9%</text>
<text transform="translate(57.23 481.96) scale(1.01 1)" class="g">100%</text>
<text transform="translate(57.23 492.16) scale(1.01 1)" class="r">0.0%</text>
<text transform="translate(79.32 481.96) scale(1.01 1)" class="g">100%</text>
<text transform="translate(79.32 492.16) scale(1.01 1)" class="r">0.0%</text>
<text transform="translate(101.41 481.96) scale(1.01 1)" class="g">100%</text>
<text transform="translate(101.41 492.16) scale(1.01 1)" class="r">0.0%</text>
<text transform="translate(123.5 481.96) scale(1.01 1)" class="g">99.2%</text>
<text transform="translate(123.5 492.16) scale(1.01 1)" class="r">0.8%</text>
<text transform="translate(145.59 481.96) scale(1.01 1)" class="g">97.2%</text>
<text transform="translate(145.59 492.16) scale(1.01 1)" class="r">2.8%</text>
<text transform="translate(167.68 481.96) scale(1.01 1)" class="g">83.5%</text>
<text transform="translate(167.68 492.16) scale(1.01 1)" class="r">16.5%</text>
<text transform="translate(189.77 481.96) scale(1.01 1)" class="g">82.6%</text>
<text transform="translate(189.77 492.16) scale(1.01 1)" class="r">17.4%</text>
<text transform="translate(211.86 481.96) scale(1.01 1)" class="g b">95.3%</text>
<text transform="translate(211.86 492.16) scale(1.01 1)" class="r b">4.7%</text>
<line x1="24.1" y1="295" x2="24.1" y2="495.2" stroke="#333333" stroke-width="0.58"/>
<line x1="24.1" y1="295" x2="222.9" y2="295" stroke="#333333" stroke-width="0.58"/>
<line x1="46.19" y1="295" x2="46.19" y2="495.2" stroke="#333333" stroke-width="0.58"/>
<line x1="24.1" y1="317.24" x2="222.9" y2="317.24" stroke="#333333" stroke-width="0.58"/>
<line x1="68.28" y1="295" x2="68.28" y2="495.2" stroke="#333333" stroke-width="0.58"/>
<line x1="24.1" y1="339.49" x2="222.9" y2="339.49" stroke="#333333" stroke-width="0.58"/>
<line x1="90.37" y1="295" x2="90.37" y2="495.2" stroke="#333333" stroke-width="0.58"/>
<line x1="24.1" y1="361.73" x2="222.9" y2="361.73" stroke="#333333" stroke-width="0.58"/>
<line x1="112.46" y1="295" x2="112.46" y2="495.2" stroke="#333333" stroke-width="0.58"/>
<line x1="24.1" y1="383.98" x2="222.9" y2="383.98" stroke="#333333" stroke-width="0.58"/>
<line x1="134.54" y1="295" x2="134.54" y2="495.2" stroke="#333333" stroke-width="0.58"/>
<line x1="24.1" y1="406.22" x2="222.9" y2="406.22" stroke="#333333" stroke-width="0.58"/>
<line x1="156.63" y1="295" x2="156.63" y2="495.2" stroke="#333333" stroke-width="0.58"/>
<line x1="24.1" y1="428.47" x2="222.9" y2="428.47" stroke="#333333" stroke-width="0.58"/>
<line x1="178.72" y1="295" x2="178.72" y2="495.2" stroke="#333333" stroke-width="0.58"/>
<line x1="24.1" y1="450.71" x2="222.9" y2="450.71" stroke="#333333" stroke-width="0.58"/>
<line x1="200.81" y1="295" x2="200.81" y2="495.2" stroke="#303030" stroke-width="1.4"/>
<line x1="24.1" y1="472.96" x2="222.9" y2="472.96" stroke="#303030" stroke-width="1.4"/>
<line x1="222.9" y1="295" x2="222.9" y2="495.2" stroke="#484848" stroke-width="1.0"/>
<line x1="24.1" y1="495.2" x2="222.9" y2="495.2" stroke="#484848" stroke-width="1.0"/>
<text transform="translate(18.9 309.02) scale(1.01 1)" class="t">1</text>
<text transform="translate(38.54 505.9) rotate(-45) scale(0.91 0.9)" class="t">1</text>
<text transform="translate(18.9 331.27) scale(1.01 1)" class="t">2</text>
<text transform="translate(60.63 505.9) rotate(-45) scale(0.91 0.9)" class="t">2</text>
<text transform="translate(18.9 353.51) scale(1.01 1)" class="t">3</text>
<text transform="translate(82.72 505.9) rotate(-45) scale(0.91 0.9)" class="t">3</text>
<text transform="translate(18.9 375.76) scale(1.01 1)" class="t">4</text>
<text transform="translate(104.81 505.9) rotate(-45) scale(0.91 0.9)" class="t">4</text>
<text transform="translate(18.9 398) scale(1.01 1)" class="t">5</text>
<text transform="translate(126.9 505.9) rotate(-45) scale(0.91 0.9)" class="t">5</text>
<text transform="translate(18.9 420.24) scale(1.01 1)" class="t">6</text>
<text transform="translate(148.99 505.9) rotate(-45) scale(0.91 0.9)" class="t">6</text>
<text transform="translate(18.9 442.49) scale(1.01 1)" class="t">7</text>
<text transform="translate(171.08 505.9) rotate(-45) scale(0.91 0.9)" class="t">7</text>
<text transform="translate(18.9 464.73) scale(1.01 1)" class="t">8</text>
<text transform="translate(193.17 505.9) rotate(-45) scale(0.91 0.9)" class="t">8</text>
<text x="123.5" y="289.7" class="ti" textLength="100.7" lengthAdjust="spacingAndGlyphs">Test Confusion Matrix</text>
<text x="123.5" y="520" class="la" textLength="56.9" lengthAdjust="spacingAndGlyphs">Target Class</text>
<text transform="translate(12.5 394.3) rotate(-90)" class="la" textLength="58.9" lengthAdjust="spacingAndGlyphs">Output Class</text>
<text x="117.4" y="544.5" class="cap">(<tspan class="capb">c</tspan>)</text>
</g>
<g id="panel-d">
<rect x="244.4" y="278.4" width="243.6" height="247.4" fill="#f0f0f0"/>
<rect x="265" y="300.5" width="23.41" height="21.66" fill="#b3e6c4"/>
<rect x="288.36" y="300.5" width="23.41" height="21.66" fill="#f9c4c0"/>
<rect x="311.71" y="300.5" width="23.41" height="21.66" fill="#f9c4c0"/>
<rect x="335.07" y="300.5" width="23.41" height="21.66" fill="#f9c4c0"/>
<rect x="358.42" y="300.5" width="23.41" height="21.66" fill="#f9c4c0"/>
<rect x="381.78" y="300.5" width="23.41" height="21.66" fill="#f9c4c0"/>
<rect x="405.13" y="300.5" width="23.41" height="21.66" fill="#f9c4c0"/>
<rect x="428.49" y="300.5" width="23.41" height="21.66" fill="#f9c4c0"/>
<rect x="451.84" y="300.5" width="23.41" height="21.66" fill="#f7f7f7"/>
<rect x="265" y="322.11" width="23.41" height="21.66" fill="#f9c4c0"/>
<rect x="288.36" y="322.11" width="23.41" height="21.66" fill="#b3e6c4"/>
<rect x="311.71" y="322.11" width="23.41" height="21.66" fill="#f9c4c0"/>
<rect x="335.07" y="322.11" width="23.41" height="21.66" fill="#f9c4c0"/>
<rect x="358.42" y="322.11" width="23.41" height="21.66" fill="#f9c4c0"/>
<rect x="381.78" y="322.11" width="23.41" height="21.66" fill="#f9c4c0"/>
<rect x="405.13" y="322.11" width="23.41" height="21.66" fill="#f9c4c0"/>
<rect x="428.49" y="322.11" width="23.41" height="21.66" fill="#f9c4c0"/>
<rect x="451.84" y="322.11" width="23.41" height="21.66" fill="#f7f7f7"/>
<rect x="265" y="343.72" width="23.41" height="21.66" fill="#f9c4c0"/>
<rect x="288.36" y="343.72" width="23.41" height="21.66" fill="#f9c4c0"/>
<rect x="311.71" y="343.72" width="23.41" height="21.66" fill="#b3e6c4"/>
<rect x="335.07" y="343.72" width="23.41" height="21.66" fill="#f9c4c0"/>
<rect x="358.42" y="343.72" width="23.41" height="21.66" fill="#f9c4c0"/>
<rect x="381.78" y="343.72" width="23.41" height="21.66" fill="#f9c4c0"/>
<rect x="405.13" y="343.72" width="23.41" height="21.66" fill="#f9c4c0"/>
<rect x="428.49" y="343.72" width="23.41" height="21.66" fill="#f9c4c0"/>
<rect x="451.84" y="343.72" width="23.41" height="21.66" fill="#f7f7f7"/>
<rect x="265" y="365.33" width="23.41" height="21.66" fill="#f9c4c0"/>
<rect x="288.36" y="365.33" width="23.41" height="21.66" fill="#f9c4c0"/>
<rect x="311.71" y="365.33" width="23.41" height="21.66" fill="#f9c4c0"/>
<rect x="335.07" y="365.33" width="23.41" height="21.66" fill="#b3e6c4"/>
<rect x="358.42" y="365.33" width="23.41" height="21.66" fill="#f9c4c0"/>
<rect x="381.78" y="365.33" width="23.41" height="21.66" fill="#f9c4c0"/>
<rect x="405.13" y="365.33" width="23.41" height="21.66" fill="#f9c4c0"/>
<rect x="428.49" y="365.33" width="23.41" height="21.66" fill="#f9c4c0"/>
<rect x="451.84" y="365.33" width="23.41" height="21.66" fill="#f7f7f7"/>
<rect x="265" y="386.94" width="23.41" height="21.66" fill="#f9c4c0"/>
<rect x="288.36" y="386.94" width="23.41" height="21.66" fill="#f9c4c0"/>
<rect x="311.71" y="386.94" width="23.41" height="21.66" fill="#f9c4c0"/>
<rect x="335.07" y="386.94" width="23.41" height="21.66" fill="#f9c4c0"/>
<rect x="358.42" y="386.94" width="23.41" height="21.66" fill="#b3e6c4"/>
<rect x="381.78" y="386.94" width="23.41" height="21.66" fill="#f9c4c0"/>
<rect x="405.13" y="386.94" width="23.41" height="21.66" fill="#f9c4c0"/>
<rect x="428.49" y="386.94" width="23.41" height="21.66" fill="#f9c4c0"/>
<rect x="451.84" y="386.94" width="23.41" height="21.66" fill="#f7f7f7"/>
<rect x="265" y="408.56" width="23.41" height="21.66" fill="#f9c4c0"/>
<rect x="288.36" y="408.56" width="23.41" height="21.66" fill="#f9c4c0"/>
<rect x="311.71" y="408.56" width="23.41" height="21.66" fill="#f9c4c0"/>
<rect x="335.07" y="408.56" width="23.41" height="21.66" fill="#f9c4c0"/>
<rect x="358.42" y="408.56" width="23.41" height="21.66" fill="#f9c4c0"/>
<rect x="381.78" y="408.56" width="23.41" height="21.66" fill="#b3e6c4"/>
<rect x="405.13" y="408.56" width="23.41" height="21.66" fill="#f9c4c0"/>
<rect x="428.49" y="408.56" width="23.41" height="21.66" fill="#f9c4c0"/>
<rect x="451.84" y="408.56" width="23.41" height="21.66" fill="#f7f7f7"/>
<rect x="265" y="430.17" width="23.41" height="21.66" fill="#f9c4c0"/>
<rect x="288.36" y="430.17" width="23.41" height="21.66" fill="#f9c4c0"/>
<rect x="311.71" y="430.17" width="23.41" height="21.66" fill="#f9c4c0"/>
<rect x="335.07" y="430.17" width="23.41" height="21.66" fill="#f9c4c0"/>
<rect x="358.42" y="430.17" width="23.41" height="21.66" fill="#f9c4c0"/>
<rect x="381.78" y="430.17" width="23.41" height="21.66" fill="#f9c4c0"/>
<rect x="405.13" y="430.17" width="23.41" height="21.66" fill="#b3e6c4"/>
<rect x="428.49" y="430.17" width="23.41" height="21.66" fill="#f9c4c0"/>
<rect x="451.84" y="430.17" width="23.41" height="21.66" fill="#f7f7f7"/>
<rect x="265" y="451.78" width="23.41" height="21.66" fill="#f9c4c0"/>
<rect x="288.36" y="451.78" width="23.41" height="21.66" fill="#f9c4c0"/>
<rect x="311.71" y="451.78" width="23.41" height="21.66" fill="#f9c4c0"/>
<rect x="335.07" y="451.78" width="23.41" height="21.66" fill="#f9c4c0"/>
<rect x="358.42" y="451.78" width="23.41" height="21.66" fill="#f9c4c0"/>
<rect x="381.78" y="451.78" width="23.41" height="21.66" fill="#f9c4c0"/>
<rect x="405.13" y="451.78" width="23.41" height="21.66" fill="#f9c4c0"/>
<rect x="428.49" y="451.78" width="23.41" height="21.66" fill="#b3e6c4"/>
<rect x="451.84" y="451.78" width="23.41" height="21.66" fill="#f7f7f7"/>
<rect x="265" y="473.39" width="23.41" height="21.66" fill="#f7f7f7"/>
<rect x="288.36" y="473.39" width="23.41" height="21.66" fill="#f7f7f7"/>
<rect x="311.71" y="473.39" width="23.41" height="21.66" fill="#f7f7f7"/>
<rect x="335.07" y="473.39" width="23.41" height="21.66" fill="#f7f7f7"/>
<rect x="358.42" y="473.39" width="23.41" height="21.66" fill="#f7f7f7"/>
<rect x="381.78" y="473.39" width="23.41" height="21.66" fill="#f7f7f7"/>
<rect x="405.13" y="473.39" width="23.41" height="21.66" fill="#f7f7f7"/>
<rect x="428.49" y="473.39" width="23.41" height="21.66" fill="#f7f7f7"/>
<rect x="451.84" y="473.39" width="23.41" height="21.66" fill="#dcdcdc"/>
<text transform="translate(276.68 309.15) scale(1.07 1.02)" class="n">566</text>
<text transform="translate(276.68 319.64) scale(1.07 1.03)" class="p">12.4%</text>
<text transform="translate(300.03 309.15) scale(1.07 1.02)" class="n">0</text>
<text transform="translate(300.03 319.64) scale(1.07 1.03)" class="p">0.0%</text>
<text transform="translate(323.39 309.15) scale(1.07 1.02)" class="n">0</text>
<text transform="translate(323.39 319.64) scale(1.07 1.03)" class="p">0.0%</text>
<text transform="translate(346.74 309.15) scale(1.07 1.02)" class="n">0</text>
<text transform="translate(346.74 319.64) scale(1.07 1.03)" class="p">0.0%</text>
<text transform="translate(370.1 309.15) scale(1.07 1.02)" class="n">0</text>
<text transform="translate(370.1 319.64) scale(1.07 1.03)" class="p">0.0%</text>
<text transform="translate(393.46 309.15) scale(1.07 1.02)" class="n">0</text>
<text transform="translate(393.46 319.64) scale(1.07 1.03)" class="p">0.0%</text>
<text transform="translate(416.81 309.15) scale(1.07 1.02)" class="n">0</text>
<text transform="translate(416.81 319.64) scale(1.07 1.03)" class="p">0.0%</text>
<text transform="translate(440.17 309.15) scale(1.07 1.02)" class="n">0</text>
<text transform="translate(440.17 319.64) scale(1.07 1.03)" class="p">0.0%</text>
<text transform="translate(276.68 330.76) scale(1.07 1.02)" class="n">4</text>
<text transform="translate(276.68 341.25) scale(1.07 1.03)" class="p">0.1%</text>
<text transform="translate(300.03 330.76) scale(1.07 1.02)" class="n">570</text>
<text transform="translate(300.03 341.25) scale(1.07 1.03)" class="p">12.5%</text>
<text transform="translate(323.39 330.76) scale(1.07 1.02)" class="n">0</text>
<text transform="translate(323.39 341.25) scale(1.07 1.03)" class="p">0.0%</text>
<text transform="translate(346.74 330.76) scale(1.07 1.02)" class="n">1</text>
<text transform="translate(346.74 341.25) scale(1.07 1.03)" class="p">0.0%</text>
<text transform="translate(370.1 330.76) scale(1.07 1.02)" class="n">1</text>
<text transform="translate(370.1 341.25) scale(1.07 1.03)" class="p">0.0%</text>
<text transform="translate(393.46 330.76) scale(1.07 1.02)" class="n">0</text>
<text transform="translate(393.46 341.25) scale(1.07 1.03)" class="p">0.0%</text>
<text transform="translate(416.81 330.76) scale(1.07 1.02)" class="n">0</text>
<text transform="translate(416.81 341.25) scale(1.07 1.03)" class="p">0.0%</text>
<text transform="translate(440.17 330.76) scale(1.07 1.02)" class="n">0</text>
<text transform="translate(440.17 341.25) scale(1.07 1.03)" class="p">0.0%</text>
<text transform="translate(276.68 352.37) scale(1.07 1.02)" class="n">0</text>
<text transform="translate(276.68 362.87) scale(1.07 1.03)" class="p">0.0%</text>
<text transform="translate(300.03 352.37) scale(1.07 1.02)" class="n">0</text>
<text transform="translate(300.03 362.87) scale(1.07 1.03)" class="p">0.0%</text>
<text transform="translate(323.39 352.37) scale(1.07 1.02)" class="n">570</text>
<text transform="translate(323.39 362.87) scale(1.07 1.03)" class="p">12.5%</text>
<text transform="translate(346.74 352.37) scale(1.07 1.02)" class="n">0</text>
<text transform="translate(346.74 362.87) scale(1.07 1.03)" class="p">0.0%</text>
<text transform="translate(370.1 352.37) scale(1.07 1.02)" class="n">0</text>
<text transform="translate(370.1 362.87) scale(1.07 1.03)" class="p">0.0%</text>
<text transform="translate(393.46 352.37) scale(1.07 1.02)" class="n">0</text>
<text transform="translate(393.46 362.87) scale(1.07 1.03)" class="p">0.0%</text>
<text transform="translate(416.81 352.37) scale(1.07 1.02)" class="n">0</text>
<text transform="translate(416.81 362.87) scale(1.07 1.03)" class="p">0.0%</text>
<text transform="translate(440.17 352.37) scale(1.07 1.02)" class="n">0</text>
<text transform="translate(440.17 362.87) scale(1.07 1.03)" class="p">0.0%</text>
<text transform="translate(276.68 373.98) scale(1.07 1.02)" class="n">0</text>
<text transform="translate(276.68 384.48) scale(1.07 1.03)" class="p">0.0%</text>
<text transform="translate(300.03 373.98) scale(1.07 1.02)" class="n">0</text>
<text transform="translate(300.03 384.48) scale(1.07 1.03)" class="p">0.0%</text>
<text transform="translate(323.39 373.98) scale(1.07 1.02)" class="n">0</text>
<text transform="translate(323.39 384.48) scale(1.07 1.03)" class="p">0.0%</text>
<text transform="translate(346.74 373.98) scale(1.07 1.02)" class="n">569</text>
<text transform="translate(346.74 384.48) scale(1.07 1.03)" class="p">12.5%</text>
<text transform="translate(370.1 373.98) scale(1.07 1.02)" class="n">0</text>
<text transform="translate(370.1 384.48) scale(1.07 1.03)" class="p">0.0%</text>
<text transform="translate(393.46 373.98) scale(1.07 1.02)" class="n">0</text>
<text transform="translate(393.46 384.48) scale(1.07 1.03)" class="p">0.0%</text>
<text transform="translate(416.81 373.98) scale(1.07 1.02)" class="n">0</text>
<text transform="translate(416.81 384.48) scale(1.07 1.03)" class="p">0.0%</text>
<text transform="translate(440.17 373.98) scale(1.07 1.02)" class="n">0</text>
<text transform="translate(440.17 384.48) scale(1.07 1.03)" class="p">0.0%</text>
<text transform="translate(276.68 395.59) scale(1.07 1.02)" class="n">0</text>
<text transform="translate(276.68 406.09) scale(1.07 1.03)" class="p">0.0%</text>
<text transform="translate(300.03 395.59) scale(1.07 1.02)" class="n">0</text>
<text transform="translate(300.03 406.09) scale(1.07 1.03)" class="p">0.0%</text>
<text transform="translate(323.39 395.59) scale(1.07 1.02)" class="n">0</text>
<text transform="translate(323.39 406.09) scale(1.07 1.03)" class="p">0.0%</text>
<text transform="translate(346.74 395.59) scale(1.07 1.02)" class="n">0</text>
<text transform="translate(346.74 406.09) scale(1.07 1.03)" class="p">0.0%</text>
<text transform="translate(370.1 395.59) scale(1.07 1.02)" class="n">568</text>
<text transform="translate(370.1 406.09) scale(1.07 1.03)" class="p">12.5%</text>
<text transform="translate(393.46 395.59) scale(1.07 1.02)" class="n">1</text>
<text transform="translate(393.46 406.09) scale(1.07 1.03)" class="p">0.0%</text>
<text transform="translate(416.81 395.59) scale(1.07 1.02)" class="n">0</text>
<text transform="translate(416.81 406.09) scale(1.07 1.03)" class="p">0.0%</text>
<text transform="translate(440.17 395.59) scale(1.07 1.02)" class="n">0</text>
<text transform="translate(440.17 406.09) scale(1.07 1.03)" class="p">0.0%</text>
<text transform="translate(276.68 417.2) scale(1.07 1.02)" class="n">0</text>
<text transform="translate(276.68 427.7) scale(1.07 1.03)" class="p">0.0%</text>
<text transform="translate(300.03 417.2) scale(1.07 1.02)" class="n">0</text>
<text transform="translate(300.03 427.7) scale(1.07 1.03)" class="p">0.0%</text>
<text transform="translate(323.39 417.2) scale(1.07 1.02)" class="n">0</text>
<text transform="translate(323.39 427.7) scale(1.07 1.03)" class="p">0.0%</text>
<text transform="translate(346.74 417.2) scale(1.07 1.02)" class="n">0</text>
<text transform="translate(346.74 427.7) scale(1.07 1.03)" class="p">0.0%</text>
<text transform="translate(370.1 417.2) scale(1.07 1.02)" class="n">0</text>
<text transform="translate(370.1 427.7) scale(1.07 1.03)" class="p">0.0%</text>
<text transform="translate(393.46 417.2) scale(1.07 1.02)" class="n">538</text>
<text transform="translate(393.46 427.7) scale(1.07 1.03)" class="p">11.8%</text>
<text transform="translate(416.81 417.2) scale(1.07 1.02)" class="n">24</text>
<text transform="translate(416.81 427.7) scale(1.07 1.03)" class="p">0.5%</text>
<text transform="translate(440.17 417.2) scale(1.07 1.02)" class="n">0</text>
<text transform="translate(440.17 427.7) scale(1.07 1.03)" class="p">0.0%</text>
<text transform="translate(276.68 438.81) scale(1.07 1.02)" class="n">0</text>
<text transform="translate(276.68 449.31) scale(1.07 1.03)" class="p">0.0%</text>
<text transform="translate(300.03 438.81) scale(1.07 1.02)" class="n">0</text>
<text transform="translate(300.03 449.31) scale(1.07 1.03)" class="p">0.0%</text>
<text transform="translate(323.39 438.81) scale(1.07 1.02)" class="n">0</text>
<text transform="translate(323.39 449.31) scale(1.07 1.03)" class="p">0.0%</text>
<text transform="translate(346.74 438.81) scale(1.07 1.02)" class="n">0</text>
<text transform="translate(346.74 449.31) scale(1.07 1.03)" class="p">0.0%</text>
<text transform="translate(370.1 438.81) scale(1.07 1.02)" class="n">0</text>
<text transform="translate(370.1 449.31) scale(1.07 1.03)" class="p">0.0%</text>
<text transform="translate(393.46 438.81) scale(1.07 1.02)" class="n">11</text>
<text transform="translate(393.46 449.31) scale(1.07 1.03)" class="p">0.2%</text>
<text transform="translate(416.81 438.81) scale(1.07 1.02)" class="n">462</text>
<text transform="translate(416.81 449.31) scale(1.07 1.03)" class="p">10.1%</text>
<text transform="translate(440.17 438.81) scale(1.07 1.02)" class="n">93</text>
<text transform="translate(440.17 449.31) scale(1.07 1.03)" class="p">2.0%</text>
<text transform="translate(276.68 460.43) scale(1.07 1.02)" class="n">0</text>
<text transform="translate(276.68 470.92) scale(1.07 1.03)" class="p">0.0%</text>
<text transform="translate(300.03 460.43) scale(1.07 1.02)" class="n">0</text>
<text transform="translate(300.03 470.92) scale(1.07 1.03)" class="p">0.0%</text>
<text transform="translate(323.39 460.43) scale(1.07 1.02)" class="n">0</text>
<text transform="translate(323.39 470.92) scale(1.07 1.03)" class="p">0.0%</text>
<text transform="translate(346.74 460.43) scale(1.07 1.02)" class="n">0</text>
<text transform="translate(346.74 470.92) scale(1.07 1.03)" class="p">0.0%</text>
<text transform="translate(370.1 460.43) scale(1.07 1.02)" class="n">0</text>
<text transform="translate(370.1 470.92) scale(1.07 1.03)" class="p">0.0%</text>
<text transform="translate(393.46 460.43) scale(1.07 1.02)" class="n">21</text>
<text transform="translate(393.46 470.92) scale(1.07 1.03)" class="p">0.5%</text>
<text transform="translate(416.81 460.43) scale(1.07 1.02)" class="n">84</text>
<text transform="translate(416.81 470.92) scale(1.07 1.03)" class="p">1.8%</text>
<text transform="translate(440.17 460.43) scale(1.07 1.02)" class="n">477</text>
<text transform="translate(440.17 470.92) scale(1.07 1.03)" class="p">10.5%</text>
<text transform="translate(463.52 308.57) scale(1.07 0.97)" class="g">100%</text>
<text transform="translate(463.52 319.25) scale(1.07 0.97)" class="r">0.0%</text>
<text transform="translate(463.52 330.18) scale(1.07 0.97)" class="g">99.0%</text>
<text transform="translate(463.52 340.87) scale(1.07 0.97)" class="r">1.0%</text>
<text transform="translate(463.52 351.79) scale(1.07 0.97)" class="g">100%</text>
<text transform="translate(463.52 362.48) scale(1.07 0.97)" class="r">0.0%</text>
<text transform="translate(463.52 373.4) scale(1.07 0.97)" class="g">100%</text>
<text transform="translate(463.52 384.09) scale(1.07 0.97)" class="r">0.0%</text>
<text transform="translate(463.52 395.01) scale(1.07 0.97)" class="g">99.8%</text>
<text transform="translate(463.52 405.7) scale(1.07 0.97)" class="r">0.2%</text>
<text transform="translate(463.52 416.62) scale(1.07 0.97)" class="g">95.7%</text>
<text transform="translate(463.52 427.31) scale(1.07 0.97)" class="r">4.3%</text>
<text transform="translate(463.52 438.23) scale(1.07 0.97)" class="g">81.6%</text>
<text transform="translate(463.52 448.92) scale(1.07 0.97)" class="r">18.4%</text>
<text transform="translate(463.52 459.84) scale(1.07 0.97)" class="g">82.0%</text>
<text transform="translate(463.52 470.53) scale(1.07 0.97)" class="r">18.0%</text>
<text transform="translate(276.68 482.62) scale(1.07 0.97)" class="g">99.3%</text>
<text transform="translate(276.68 492.53) scale(1.07 0.97)" class="r">0.7%</text>
<text transform="translate(300.03 482.62) scale(1.07 0.97)" class="g">100%</text>
<text transform="translate(300.03 492.53) scale(1.07 0.97)" class="r">0.0%</text>
<text transform="translate(323.39 482.62) scale(1.07 0.97)" class="g">100%</text>
<text transform="translate(323.39 492.53) scale(1.07 0.97)" class="r">0.0%</text>
<text transform="translate(346.74 482.62) scale(1.07 0.97)" class="g">99.8%</text>
<text transform="translate(346.74 492.53) scale(1.07 0.97)" class="r">0.2%</text>
<text transform="translate(370.1 482.62) scale(1.07 0.97)" class="g">99.8%</text>
<text transform="translate(370.1 492.53) scale(1.07 0.97)" class="r">0.2%</text>
<text transform="translate(393.46 482.62) scale(1.07 0.97)" class="g">94.2%</text>
<text transform="translate(393.46 492.53) scale(1.07 0.97)" class="r">5.8%</text>
<text transform="translate(416.81 482.62) scale(1.07 0.97)" class="g">81.1%</text>
<text transform="translate(416.81 492.53) scale(1.07 0.97)" class="r">18.9%</text>
<text transform="translate(440.17 482.62) scale(1.07 0.97)" class="g">83.7%</text>
<text transform="translate(440.17 492.53) scale(1.07 0.97)" class="r">16.3%</text>
<text transform="translate(463.52 482.62) scale(1.07 0.97)" class="g b">94.7%</text>
<text transform="translate(463.52 492.53) scale(1.07 0.97)" class="r b">5.3%</text>
<line x1="265" y1="300.5" x2="265" y2="495" stroke="#333333" stroke-width="0.58"/>
<line x1="265" y1="300.5" x2="475.2" y2="300.5" stroke="#333333" stroke-width="0.58"/>
<line x1="288.36" y1="300.5" x2="288.36" y2="495" stroke="#333333" stroke-width="0.58"/>
<line x1="265" y1="322.11" x2="475.2" y2="322.11" stroke="#333333" stroke-width="0.58"/>
<line x1="311.71" y1="300.5" x2="311.71" y2="495" stroke="#333333" stroke-width="0.58"/>
<line x1="265" y1="343.72" x2="475.2" y2="343.72" stroke="#333333" stroke-width="0.58"/>
<line x1="335.07" y1="300.5" x2="335.07" y2="495" stroke="#333333" stroke-width="0.58"/>
<line x1="265" y1="365.33" x2="475.2" y2="365.33" stroke="#333333" stroke-width="0.58"/>
<line x1="358.42" y1="300.5" x2="358.42" y2="495" stroke="#333333" stroke-width="0.58"/>
<line x1="265" y1="386.94" x2="475.2" y2="386.94" stroke="#333333" stroke-width="0.58"/>
<line x1="381.78" y1="300.5" x2="381.78" y2="495" stroke="#333333" stroke-width="0.58"/>
<line x1="265" y1="408.56" x2="475.2" y2="408.56" stroke="#333333" stroke-width="0.58"/>
<line x1="405.13" y1="300.5" x2="405.13" y2="495" stroke="#333333" stroke-width="0.58"/>
<line x1="265" y1="430.17" x2="475.2" y2="430.17" stroke="#333333" stroke-width="0.58"/>
<line x1="428.49" y1="300.5" x2="428.49" y2="495" stroke="#333333" stroke-width="0.58"/>
<line x1="265" y1="451.78" x2="475.2" y2="451.78" stroke="#333333" stroke-width="0.58"/>
<line x1="451.84" y1="300.5" x2="451.84" y2="495" stroke="#303030" stroke-width="1.4"/>
<line x1="265" y1="473.39" x2="475.2" y2="473.39" stroke="#303030" stroke-width="1.4"/>
<line x1="475.2" y1="300.5" x2="475.2" y2="495" stroke="#484848" stroke-width="1.0"/>
<line x1="265" y1="495" x2="475.2" y2="495" stroke="#484848" stroke-width="1.0"/>
<text transform="translate(258.9 314.61) scale(1.07 0.97)" class="t">1</text>
<text transform="translate(280.08 505.9) rotate(-45) scale(0.96 0.87)" class="t">1</text>
<text transform="translate(258.9 336.22) scale(1.07 0.97)" class="t">2</text>
<text transform="translate(303.43 505.9) rotate(-45) scale(0.96 0.87)" class="t">2</text>
<text transform="translate(258.9 357.83) scale(1.07 0.97)" class="t">3</text>
<text transform="translate(326.79 505.9) rotate(-45) scale(0.96 0.87)" class="t">3</text>
<text transform="translate(258.9 379.44) scale(1.07 0.97)" class="t">4</text>
<text transform="translate(350.14 505.9) rotate(-45) scale(0.96 0.87)" class="t">4</text>
<text transform="translate(258.9 401.05) scale(1.07 0.97)" class="t">5</text>
<text transform="translate(373.5 505.9) rotate(-45) scale(0.96 0.87)" class="t">5</text>
<text transform="translate(258.9 422.66) scale(1.07 0.97)" class="t">6</text>
<text transform="translate(396.86 505.9) rotate(-45) scale(0.96 0.87)" class="t">6</text>
<text transform="translate(258.9 444.27) scale(1.07 0.97)" class="t">7</text>
<text transform="translate(420.21 505.9) rotate(-45) scale(0.96 0.87)" class="t">7</text>
<text transform="translate(258.9 465.88) scale(1.07 0.97)" class="t">8</text>
<text transform="translate(443.57 505.9) rotate(-45) scale(0.96 0.87)" class="t">8</text>
<text x="370.1" y="295.7" class="ti" textLength="99.7" lengthAdjust="spacingAndGlyphs">All Confusion Matrix</text>
<text x="370.1" y="519.6" class="la" textLength="60.5" lengthAdjust="spacingAndGlyphs">Target Class</text>
<text transform="translate(251.9 397.75) rotate(-90)" class="la" textLength="58.4" lengthAdjust="spacingAndGlyphs">Output Class</text>
<text x="365.7" y="544.5" class="cap">(<tspan class="capb">d</tspan>)</text>
</g>
</svg>
</body>
</html>
